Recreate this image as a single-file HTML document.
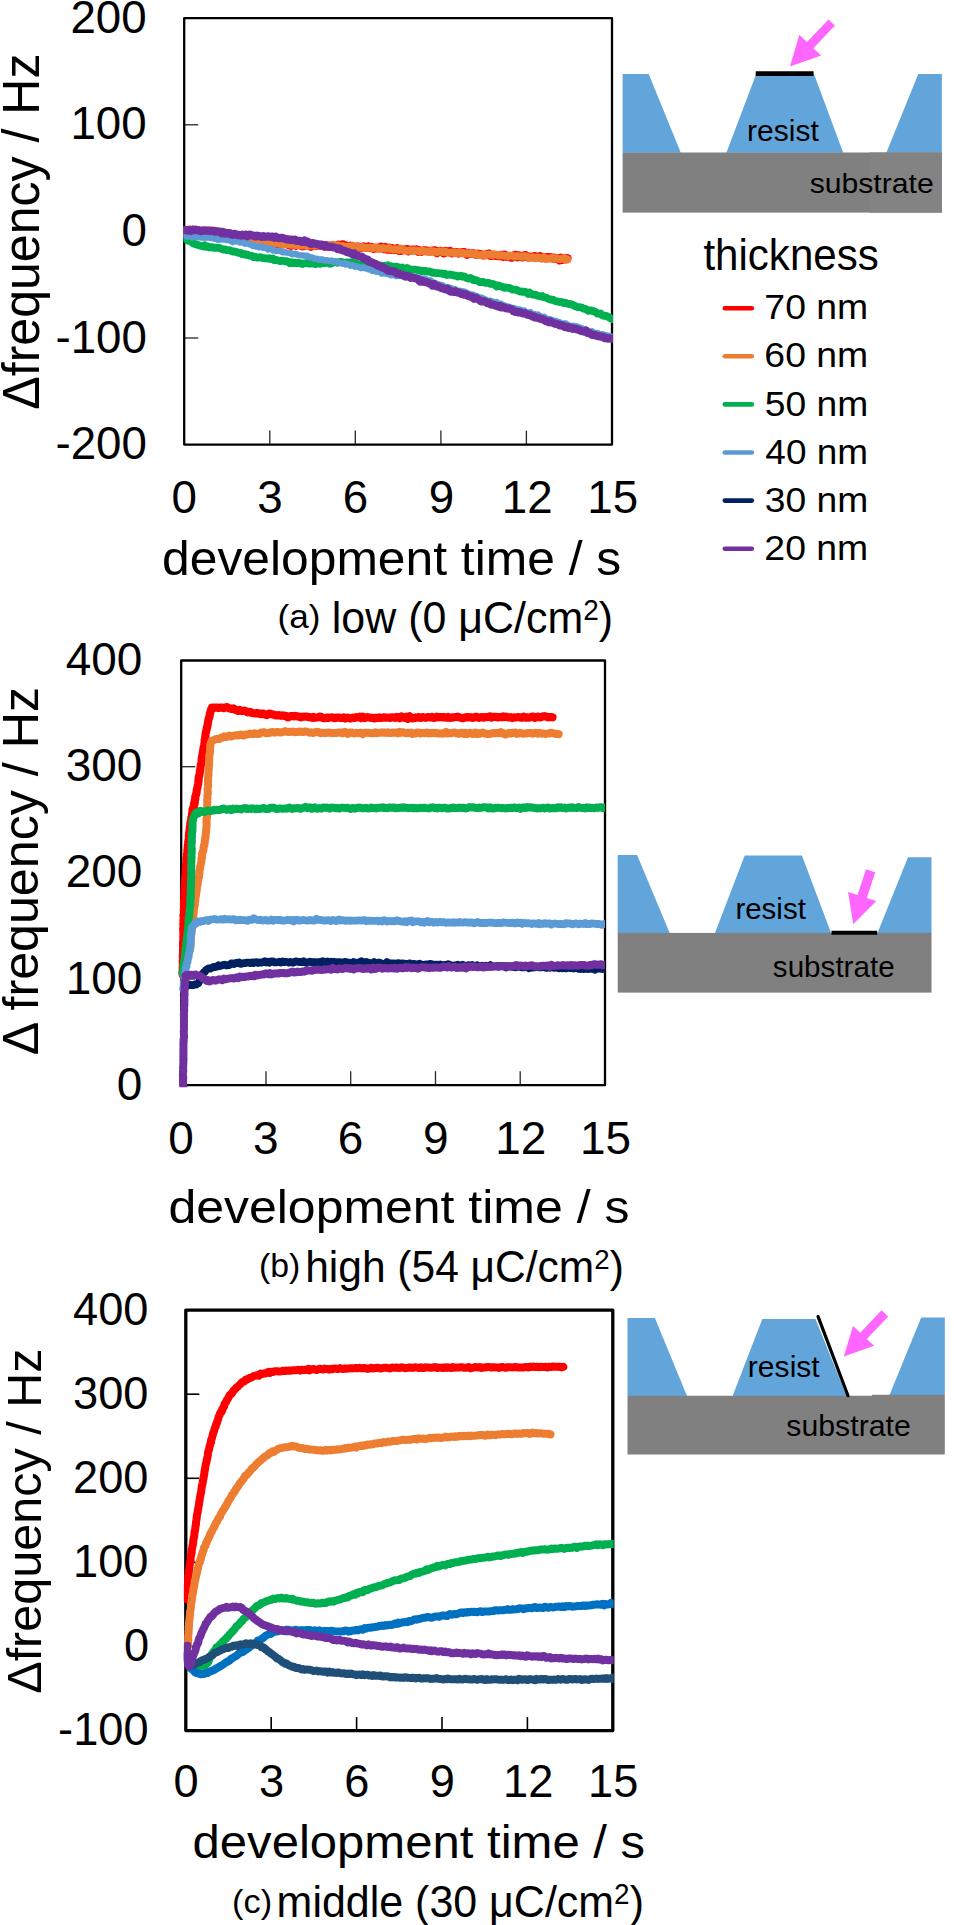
<!DOCTYPE html>
<html lang="en"><head><meta charset="utf-8"><title>QCM development curves</title>
<style>
html,body{margin:0;padding:0;background:#fff}
svg{display:block}
text{font-family:"Liberation Sans",sans-serif;white-space:pre}
</style></head><body>
<svg width="954" height="1925" viewBox="0 0 954 1925">
<rect width="954" height="1925" fill="#fff"/>
<g id="plot-a">
<clipPath id="ca"><rect x="183.2" y="18.2" width="429.8" height="426.40000000000003"/></clipPath>
<line x1="269.8" y1="444.6" x2="269.8" y2="430.6" stroke="#262626" stroke-width="1.3"/>
<line x1="355.3" y1="444.6" x2="355.3" y2="430.6" stroke="#262626" stroke-width="1.3"/>
<line x1="440.9" y1="444.6" x2="440.9" y2="430.6" stroke="#262626" stroke-width="1.3"/>
<line x1="526.4" y1="444.6" x2="526.4" y2="430.6" stroke="#262626" stroke-width="1.3"/>
<line x1="184.2" y1="124.8" x2="198.2" y2="124.8" stroke="#262626" stroke-width="1.3"/>
<line x1="184.2" y1="231.4" x2="198.2" y2="231.4" stroke="#262626" stroke-width="1.3"/>
<line x1="184.2" y1="338" x2="198.2" y2="338" stroke="#262626" stroke-width="1.3"/>
<rect x="184.2" y="18.2" width="427.8" height="426.4" fill="none" stroke="#000" stroke-width="2.3" stroke-linejoin="round"/>
<g clip-path="url(#ca)">
<polyline points="184.5,230.5 186.4,230.7 187.8,230.3 189.5,229.9 191,230.3 192.9,230 194.3,230.8 195.4,231.9 197.4,230.6 198.7,230.6 200,231.6 202.2,231.6 204.2,231.5 205.5,230.9 206.9,231.7 208.5,232.4 210.5,231 211.9,231.9 213.5,231 215,231.7 216.6,231.6 218.4,233.1 219.9,232.7 221.4,234.2 222.7,234.5 224.6,234.6 225.9,233.3 227.9,235.2 228.9,236 230.7,236.5 232.3,235.7 233.6,236.9 235.8,236.9 237.3,237.4 238.5,239.2 240.3,238.2 241.8,239.2 242.6,240.3 244.8,239.7 246.3,240.4 247.9,240.9 249.3,241.1 251,240.3 252.6,241.5 254.5,242.6 255.9,240.6 257.5,242.6 259.4,242.2 260.6,241.7 262.2,243.8 263.5,243 265.9,241.7 267.3,242.7 268.9,243.2 270.5,242.8 272,243.6 273.6,243.2 275.1,243.9 276.7,244.6 278.4,243.2 280.3,244 281.7,243.6 283.1,244.2 284.6,243.4 286.2,244 288.3,244.4 289.7,245.3 291.2,245.6 292.7,243.9 294.1,244.4 296,245.5 297.8,243.6 299.1,244.8 300.8,245.1 302.4,246.2 304,245.8 305.3,245.1 307.2,245.1 308.7,245.2 310.7,246.6 311.9,245.1 313.8,245.3 315.6,245.8 316.8,245.5 318.4,245.4 320.2,244.8 321.7,245.6 323.1,245.3 325,246.6 327,246.2 328.1,245.7 329.7,246.3 331.1,245.6 333.1,246.7 334.3,245.9 336,246.4 338.1,245 339.2,246.3 341.3,244.8 343,244.6 344.3,246 346,245.6 347.9,246.5 349,248.1 350.5,245.9 352,246.1 353.9,246.8 355.8,247.1 357.3,246.7 358.5,246.8 360.1,247.6 361.8,247.5 363.6,246.5 365.1,247.3 366.8,247.5 368.4,246.7 369.9,247.8 371.5,247.1 373.2,248.6 374.7,248.1 376.5,248.2 378.4,247.8 379.7,248.2 381.2,246.9 382.4,247.7 384.5,249 385.6,247.2 387.3,249.5 389.4,247.7 391,249.7 392.4,248.6 393.6,249.9 395.5,249.5 397.1,248.4 399,250.6 401,250.8 402.1,249.8 403.5,249.7 405,249.9 406.9,249.4 408.4,251 409.8,249.8 411.7,250.3 413,249.8 415.2,250 416.7,249.6 418.4,251.6 419.6,250.6 421.4,251.6 422.9,250.9 424.5,250.5 426.1,250.8 427.5,250.8 429,251.3 431.1,251.1 432.5,251.2 434.2,250.5 436,251 437,252.9 438.8,251.3 440.6,251.1 442.3,252.2 443.7,253.1 445.7,251.1 447.1,252.1 448.4,251.9 450,251.1 452,253.1 453.6,252.6 454.6,252.8 457,252.3 458.4,253.3 460.2,252.6 461.4,253 463,252.4 464.4,252.4 466.9,254.4 467.9,253.2 469.9,253.8 471,253.7 472.8,253.5 474,253.5 475.9,254.5 477.8,253.9 478.9,254.1 481,254.3 482.4,255.3 483.7,255 485.5,254.9 487.1,254.3 488.8,253.7 490.3,255.6 491.8,255.7 493.5,254.9 495,255.5 496.5,255.8 498.4,255.9 500.2,256.1 501.3,255.1 503.3,256.7 504.7,254.7 506.2,256.4 508.3,256.2 509.6,256.6 511.6,257.4 512.7,257.2 514.6,255.3 516.1,255 517.5,256.9 519.4,255.7 520.9,256.5 522.7,257.2 524.1,255.4 525.5,255.2 527.3,257.1 529,257 530.8,256.9 532,257.2 533.8,256.6 535,256.2 537.1,257.3 538.4,256.8 539.8,256.4 541.8,258.1 543.7,257.7 544.7,258.2 546.4,257.2 548.1,257.6 549.6,257.4 551.5,257.6 552.9,258.5 554.5,257.9 556.4,258.8 557.7,258.9 559.6,260.3 560.9,257.8 562.4,259.7 563.9,259 566.3,259.2 567.4,258.2" fill="none" stroke="#ff0000" stroke-width="8.6" stroke-linecap="round" stroke-linejoin="round"/>
<polyline points="184.5,230.6 186.2,230.5 187.5,230.6 189.6,230.6 191.1,231.5 192.8,230.2 194.6,230.1 195.9,230.4 197.3,230.4 199,231.4 200.6,231.6 202.3,230.9 203.9,230.8 205.3,231.4 207.2,232.4 208.5,230.6 210.3,232.3 211.9,231.7 213.4,232.9 215,232.2 216.5,232.8 218.1,232.6 219.5,233.2 221.3,234.6 223.2,234.7 224.7,234.6 226.2,234.8 227.7,234.7 229.1,235.8 230.9,236.4 232.3,236.8 233.9,237.2 235.4,237.1 237,238 238.5,238.4 240.1,239.4 241.5,240.1 243.2,239.6 245.1,239.8 246.3,240.4 247.9,240.5 249.6,240.7 251.2,241.2 252.5,241 254.2,241.9 256,241.7 257.5,242 259.1,242 260.9,241.9 262.2,241.9 263.9,242.3 265.4,242.3 267.3,242.8 268.5,242.8 270.2,242.3 271.9,243.1 273.6,242.6 275.2,243.1 276.9,243.4 278.1,242.7 280,243.9 281.5,244 283.1,244.1 284.8,244.1 286.2,244.2 287.7,244.1 289.5,244.5 291,244.5 292.7,244.9 294.4,244.4 296,245.1 297.8,245.2 299.2,245.1 300.6,245 302.3,245.5 303.9,244.5 305.5,245.5 307.3,245.5 308.8,245.5 310.2,245.6 312.2,245.2 313.7,245.4 315.3,245.8 316.9,245.7 318.6,245.7 320.1,244.9 321.9,245.9 323.4,246.2 325,246.2 326.6,245.8 328,245.1 329.7,246.2 331.3,245.8 333,244.7 334.4,246.1 336.4,245.3 337.8,245.4 339.3,245.7 340.8,246.7 342.6,246 344.2,246.3 345.8,247.1 347.5,247.1 349,246.4 350.7,246.4 352.2,246 353.9,246.4 355.6,247 357.4,247 358.6,247 360.2,247.5 361.8,246.8 363.6,247.2 365,247.7 366.7,247.7 368.3,248 369.8,247.8 371.4,247.6 373.1,248 374.5,247.5 376.2,247.4 377.9,248.5 379.6,248.3 381.2,248.6 382.5,247.8 384.3,248.5 386.1,248.5 387.7,248.5 389.2,248 390.7,249 392.5,249.6 393.9,249.5 395.5,249.2 397.1,249.5 399,250 400.5,248.5 402.2,249.8 403.6,250.1 405.4,250.3 406.8,250.8 408.5,250.7 410.4,250.4 411.8,250.5 413.2,250.8 414.9,250.3 416.6,250.6 418.3,251.1 419.7,251.6 421.1,250.8 422.9,250.9 424.5,251.1 426.2,251.7 427.9,251.2 429.4,251.9 431.1,250.9 432.4,251.3 434.3,251.4 436.1,252 437.5,252.2 439,251.1 440.6,251.5 442.5,252.1 443.7,251.8 445.4,251.5 447.1,252.7 448.7,252.6 450.2,252.7 451.9,252.3 453.4,253.1 455.1,252.6 456.7,253.3 458.1,252.5 459.9,252.6 461.6,253.2 463,252.9 464.7,253.6 466.4,253.5 467.8,253.1 469.5,253.7 471,253.6 472.9,254.2 474.6,253.6 476.2,253.8 477.5,254.7 479.3,255.2 480.8,255.2 482.4,254.4 484.2,254.6 485.4,255.3 487.3,254.6 488.8,254.3 490.6,254.9 492,255.2 493.5,254.7 495.3,254.4 496.9,254.6 498.4,255.6 500.1,255.1 501.6,255.4 503,255.7 505,255.9 506.6,255.6 508.1,256.1 509.7,255.5 511.4,255.8 512.8,255.6 514.4,256.7 516.1,256.2 517.9,256 519.1,256.3 521.1,256.4 522.4,256.9 524,256 525.9,256.3 527.3,256.7 528.8,258.1 530.5,257.5 532.3,257.1 533.9,257.5 535.3,258.2 537,257.3 538.7,257.3 540.1,258.1 541.9,257.9 543.4,258.1 544.9,257.7 546.6,258.9 548.2,258.9 549.8,258.4 551.4,258.6 553,257.5 554.8,258.8 556.3,258.5 558,258.9 559.6,259.1 561.2,258.7 563,258.2 564.2,259.3 566,258.9 567.5,259.2" fill="none" stroke="#ed7d31" stroke-width="7.8" stroke-linecap="round" stroke-linejoin="round"/>
<polyline points="187.1,240 188.5,240.8 189.9,240 191.2,241.3 192.3,242.9 194,243.6 195.5,244.3 196.8,244.5 198.5,245.2 199.8,245.7 201.3,245.7 203.2,246.5 204.6,245.3 206.1,246.9 207.8,246.4 209.4,247.5 210.9,247.2 212.2,247.2 214,247.9 215.7,247.6 217.2,247.8 219,247.7 220.7,248.6 222.1,249.1 223.6,249.6 225.6,249.4 226.8,250.2 228.3,250.1 230.1,250.4 231.7,251.1 233.1,251.7 234.8,251.5 236.2,252 237.7,252.5 239.4,253 241,253 242.4,254.3 244.1,254 245.6,254.8 247.5,254.6 248.6,255.5 250.5,255.8 251.9,255.8 253.4,257.2 255.1,256.7 256.7,257.6 258.4,257.6 259.8,257.1 261.3,257.5 262.9,258.1 264.6,258.2 266.2,258.5 267.9,258.6 269.3,258.2 271,259.2 272.7,258.5 274.1,260 275.4,259.8 277,260.1 278.6,260.6 280.6,261.1 281.8,260.7 283.7,260.8 285.2,261.4 287,261.2 288.5,261.9 289.9,263.3 291.5,262.3 293.1,263.2 294.7,262.4 296.2,263.2 297.9,262.9 299.7,263.1 300.9,263.4 302.7,264 304.2,263.3 305.9,263.3 307.6,262.9 309.1,263.6 310.9,263.2 312.1,263.7 314.1,263.4 315.5,264.2 317.3,262.5 318.8,263.3 320,263.8 321.9,263.2 323.6,262.9 325.4,263 326.9,262.4 328.5,263 329.8,263.9 331.8,263.2 333.5,262.1 334.9,262.1 336.4,262.2 337.8,262.8 339.8,261.9 341.6,262 343,262.7 344.6,262.8 346.1,262.4 347.5,262.3 349.4,262.3 350.7,262.9 352.4,262.3 354.1,263.8 355.8,263.3 357.3,264 358.9,264.7 360.4,264.5 361.9,263.6 363.7,264.6 365.2,264.8 366.7,264.1 368.3,264.1 370,264.6 371.4,264 373.1,265.5 374.7,263.9 376.5,264.6 378.2,265.1 380,265.3 381.1,265.6 382.8,265.8 384.6,265.7 386.1,266.5 387.7,265.2 389.5,266.3 390.9,266.1 392.4,266.7 393.9,266.9 395.7,266.6 397.3,266.9 398.7,267.7 400.3,267.8 402.1,267.5 403.7,269 405.2,269.3 406.9,267.9 408.5,268.9 409.8,270.2 411.6,269.7 413.2,269.7 414.7,269.7 416.1,269.8 417.9,270.2 419.6,270.3 421.3,271.1 422.4,270.8 424.7,271 425.8,270.9 427.6,271.6 429.3,271.5 430.8,272 432.3,272.8 433.7,272.7 435.6,273 437,273.1 438.3,273.2 440.6,273.4 441.9,273.5 443.7,274.2 444.9,273.6 446.8,275 448.4,274.6 450,274.5 451.4,274.9 452.8,275 454.5,275.7 455.8,275.5 457.5,276.6 459.3,276 460.8,275.7 462.4,276.6 464,276.4 465.9,277.6 467.3,278.4 468.7,278.6 470.5,278 471.8,278.7 473.4,280.2 475.1,279.9 476.4,280.2 478.1,281.1 479.5,282.1 481.2,282 483,281.9 484.2,282.4 485.9,282.9 487.3,282.8 488.8,282.9 490.4,283.8 492.3,283.8 494,284.6 495.3,285 496.7,286.4 498.4,285.4 499.9,286.1 501.6,286.5 503.1,287.2 504.6,287.8 506.2,287.5 507.6,287.8 509.2,287.8 510.6,288.5 512.3,289.6 513.7,289.7 515.5,289.6 516.9,290.3 518.6,290.9 520.2,291.5 521.5,291.4 523.2,291.9 524.7,291.6 526.5,292.3 528.2,293.9 529.6,292.6 531,293.8 532.8,294.5 534,294.6 536,294.9 537.2,295.6 538.5,296 540.8,296.4 542.2,296 543.4,297.2 545.1,297.3 546.6,297.9 548.2,298.7 549.5,299.3 551.2,299.8 552.9,299.6 554.4,300.7 556.1,301.2 557.5,301.6 559.3,302.1 560.5,301.9 562.2,302.3 563.4,303.1 565.1,302.6 567,303.7 568.2,303.8 570,304.3 571.4,304.1 572.8,304.9 574.5,305.7 576,306.6 577.5,307.1 579.3,307.1 580.8,307.5 582.1,307.7 583.6,308.7 585.3,308.9 586.8,309.8 588.5,310.8 590.2,310.5 591.5,310.3 592.9,311.1 594.4,311.4 595.9,312 597.4,313.7 598.9,313.7 600.5,313.5 602,315 603.6,315.8 605,315.7 606.5,316.1 607.9,316.8 609.7,317.7 611.1,318.5 612.7,319.3" fill="none" stroke="#00b050" stroke-width="7.8" stroke-linecap="round" stroke-linejoin="round"/>
<polyline points="185.6,236.1 187.5,236.5 189.1,235.9 190.7,236.4 192.4,237.5 193.7,235.8 195.3,237.1 197.2,237.4 198.5,237 199.9,237.3 202,237.7 203.3,237 205,237.7 206.5,237.2 208.1,237.5 209.7,237.7 211.4,238.1 213.1,238.4 214.3,238.7 216.4,238 217.7,239.8 219.3,239.6 221.2,239.5 222.7,239.2 224.1,239.5 226.1,240 227.4,240.2 229.1,239.4 230.7,240.8 232.4,242 233.8,240 235.6,241.6 236.9,241.6 238.7,241.6 240.1,242.6 241.7,241.8 243.6,242.8 244.9,243.7 246.4,243.4 248.3,243.7 249.6,244.4 251,244.6 252.7,245.9 254,245.2 255.9,246.5 257.5,245.9 258.8,247.2 260.4,247.2 262,246.4 263.6,247.9 265,247.8 266.8,248.4 268,249.6 269.8,248.7 271.4,249 273,250.5 274.7,250.2 276.1,251.1 277.9,250.9 279.4,250.6 280.9,251.3 282.4,252.2 284,252.4 285.8,252.3 287.2,252.6 288.9,252.9 290.6,253 292.2,254.4 293.8,253.9 295.1,253.7 296.6,254.3 298.5,255.1 300,255.4 301.7,255.4 303.1,255.4 304.8,256.1 306.4,255.6 307.9,256.1 309.5,257.4 311,257.1 312.6,257.8 314.2,258.5 315.8,258.6 317.2,258.6 319.1,259.9 320.4,259.5 322.2,259.4 323.6,260.2 325.2,260.4 327,260.1 328.3,260.8 329.8,261 331.4,260.5 333,261.6 335,261.9 336.3,262.1 338,261.9 339.3,262.8 341,263.2 342.7,263.6 344.4,263.3 345.6,264.5 347.4,263.9 348.9,264.7 350.3,265.8 352,265.2 353.6,265.6 354.9,266.7 356.8,266.4 358.4,266.8 359.8,267.5 361.2,268.3 363.2,267.2 364.6,268.2 366.2,268.5 367.8,268.9 369.1,269.4 370.9,269.8 372.3,270.8 373.9,270.6 375.5,271.4 377,271.9 378.8,271.8 380.2,272.5 381.7,273.6 383.3,273.4 384.9,273.3 386.3,273.9 388,273.9 389.6,274.7 391.1,275.3 392.8,274.8 394.3,275.3 396.2,276.1 397.7,275.6 399.2,276 400.8,275.6 402.7,275.8 404,276.1 405.6,277.4 407.3,276.4 408.9,276.4 410.7,276.5 412.1,276.9 414,277.4 415.1,277.3 416.9,278.4 418.3,277.8 420.2,278.6 421.5,278.4 423,279 424.7,278.5 426.3,279.6 427.5,280.2 429.1,280.7 430.5,280.4 432.2,282.4 433.7,282.5 435.1,283 436.6,283.7 438.2,284.3 439.6,285.1 441.4,284.9 443,285.5 444.1,286.5 445.9,287 447.4,287.2 449,287.6 450.4,287.9 452,288.7 453.5,289.7 455.3,289.2 456.7,290.8 458.2,290.9 459.8,290.8 461.3,291.9 462.7,291.3 464.5,291.7 466,292.4 467.4,293.3 469.1,293.8 470.7,294.3 471.9,295.1 473.4,294.6 475.3,296.3 476.8,296 478,296.8 479.5,297.5 481.1,297.7 482.6,298.1 484,298.8 485.8,299.7 487.1,300.5 488.7,300.9 490.5,300.7 491.8,301.3 493.4,301.7 495.1,302.7 496.6,302.1 498,304 499.6,303.7 501.1,304 503,304.9 504.4,305.7 505.7,305.8 507.4,306.6 509,306.6 510.5,307.6 512.2,308.1 513.7,307.9 515,309.1 516.6,309 518,309.4 519.7,309.4 521.3,310.1 523.2,311.1 524.3,310.6 525.6,312 527.3,312.3 529,312.7 530.3,312.1 531.9,313.5 533.5,314.3 535.1,314.2 536.6,315.1 538,314.5 539.8,316.4 541.1,316.3 542.7,317.5 544.1,316.8 545.7,318.5 547.4,318.6 548.6,319.6 550.3,319.3 552,319.9 553.4,321.7 555,320.8 556.3,321.3 558.2,322 559.7,322.1 561.2,323.5 562.5,324.1 564.1,323.5 565.9,323.4 567.6,325.1 569,325.5 570.7,325.8 572,326.3 573.6,325.8 575.2,326.5 576.8,326.4 578.1,326.8 580,328.3 581.5,328 582.8,329.8 584.3,329.3 586,329.5 587.4,330.7 588.7,331.6 590.7,331.5 592.1,331.3 593.6,332.5 595.5,333.4 596.8,333 598.2,333.3 599.9,334.5 601.3,334.5 602.9,334.3 604.6,334.9 606.1,335.1 607.7,335.8 609.5,336 611,336.7 612.6,336.7" fill="none" stroke="#5b9bd5" stroke-width="6.4" stroke-linecap="round" stroke-linejoin="round"/>
<polyline points="184.7,230.2 186.3,230.2 187.9,230.7 189.3,230.1 190.9,230.9 192.9,229.7 194.2,230.1 195.8,229.7 197.7,230.2 199.2,230.7 200.8,231.2 202.3,230.3 204.2,230.7 205.6,230.7 207.2,230.6 208.7,230.5 210.1,231.1 211.7,230.5 213.6,231.4 215.2,231.6 216.7,231.5 218.2,231.5 219.7,231.6 221.5,233.3 222.9,232 224.8,233.6 226.4,233.4 228.3,233.2 229.6,233.1 231,234.3 232.6,234.8 233.8,233.8 235.8,234.3 237.4,235.1 239.2,234.9 240.8,235.7 242.4,234.7 243.9,235.3 245.6,234.6 247.3,236.2 248.6,235 250.3,234.5 251.7,235.5 253.7,235.6 255.3,236.6 256.8,235.7 258.2,235.9 260,236.3 261.5,236.8 263.2,236.2 264.8,236.8 266.5,236.6 267.9,236.4 269.7,236.7 271.2,236.8 272.8,236.5 274.4,237.7 275.9,236.7 277.7,238 279.1,238.2 280.8,237.9 282.3,237.9 283.7,238.4 285.7,239 287,239.4 288.8,239.4 290.4,240 291.7,239.6 293.3,240.2 295,239.7 296.5,241 298.1,240.9 299.9,240.9 301.4,241.9 303.1,241.9 304.5,240.6 306.2,242.2 307.7,241.7 309.4,243.1 311,244.1 312.5,243 314.1,243.5 315.6,243.7 317.3,244.2 318.9,244.7 320.4,245.3 321.9,244.6 323.7,246 325.5,245.2 326.7,246.1 328.4,246.9 330,247 331.2,246.6 333.1,247.1 334.5,247.6 336.4,248.2 337.7,249.1 339.2,248.4 340.8,249.6 342.4,250.2 343.8,250.6 345.4,251.1 346.7,252.1 348.4,252.2 350,252.9 351.7,253.4 353,254.5 354.5,253.5 356.1,255.6 357.5,255.5 359.1,256.2 360.5,256.5 361.8,256.8 363.3,258.1 364.8,258.6 366.3,259.8 367.7,259.6 369,261.7 370.2,261.9 371.9,262.4 373.1,263 374.8,263.7 376.2,264.3 377.4,265.3 379.2,266.2 380.7,266.8 382.1,266.9 383.7,268 385.3,268.4 386.3,269.5 388.1,270.8 389.6,270.9 391.1,271 392.6,271 393.9,271.6 395.5,272 397,273.6 398.5,273.5 400.1,274.3 401.5,274.5 403.1,275.2 404.8,276.3 406.3,275.8 407.9,276.4 409.1,276.6 410.8,277.8 412.4,277.4 414,277.9 415.5,278.2 417.2,278.7 418.6,280 420.2,281.5 421.7,280.4 423.3,281.8 424.7,282 426.4,281.9 427.8,282.8 429.3,283.4 430.8,283.7 432.4,285.5 434,284.3 435.5,285.8 436.9,286.3 438.5,286.4 439.9,287.3 441.6,288.1 443,288.3 444.2,288.9 446.2,289.5 447.6,288.7 449,290.7 450.7,291.6 452.1,291.4 454.1,291.9 455.4,291.3 456.7,292.3 458.5,292.4 459.9,293 461.7,294.2 462.9,293.9 464.3,294.7 466.1,294.4 467.6,295.7 469.1,296.3 470.4,296.5 472.2,297 473.9,298.7 474.9,297.9 476.9,298.5 478.2,299.1 480.1,300.6 481.3,301.5 482.8,301.2 484.5,301.3 485.9,301.9 487.3,303.1 489,302.7 490.4,304.2 491.7,304.7 493.8,304.6 495,305.3 496.5,305.8 498.2,306.6 499.5,305.9 501,307.4 502.7,307.1 504.2,307.4 505.9,308.2 507.6,308.5 508.9,308.6 510.6,308.8 512.1,309.6 513.4,311.1 515.1,311.8 516.5,311.7 518.3,312.4 519.8,312.1 521.3,312.8 522.6,313.4 524.4,313.2 525.8,313.7 527.5,314.7 529,315 530.4,315.1 532.2,316.3 533.7,316.4 535,317.5 536.8,317.6 538.1,317.9 539.7,318.6 541.2,319 542.7,319.3 544.2,320 545.8,321 547.5,321.5 549.1,322.3 550.3,321.4 552.1,322.5 553.4,323 555,323.7 556.6,323.9 558.1,324.4 559.9,325.4 561.2,325.5 562.5,325.3 564.4,326.9 565.8,327.1 567.3,326.8 568.5,327.9 570.6,327.6 572.2,328.8 573.7,328.6 575.3,328.8 577,329.4 578.3,329.6 580,330.5 581.3,330.9 582.9,331.3 584.6,331.6 586,330.7 587.3,332.9 589.1,332.5 590.6,333.9 592,334.8 593.7,334.9 595.1,335.1 596.5,335.7 598.1,336.1 600.1,336.3 601.2,336.7 603,336.9 604.6,338.1 606.2,337.9 607.5,338.6 609.3,338.3 610.9,338.6 612.6,338.7" fill="none" stroke="#7030a0" stroke-width="8.2" stroke-linecap="round" stroke-linejoin="round"/>
</g>
<text transform="translate(70.40,32.70) scale(1.0009,1)" font-size="45.69" fill="#000">200</text>
<text transform="translate(70.40,139.30) scale(1.0009,1)" font-size="45.69" fill="#000">100</text>
<text transform="translate(121.40,245.90) scale(1.0009,1)" font-size="45.69" fill="#000">0</text>
<text transform="translate(55.40,352.50) scale(1.0009,1)" font-size="45.69" fill="#000">-100</text>
<text transform="translate(55.40,459.10) scale(1.0009,1)" font-size="45.69" fill="#000">-200</text>
<text transform="translate(171.60,513.40) scale(1.0009,1)" font-size="45.69" fill="#000">0</text>
<text transform="translate(257.16,513.40) scale(1.0009,1)" font-size="45.69" fill="#000">3</text>
<text transform="translate(342.72,513.40) scale(1.0009,1)" font-size="45.69" fill="#000">6</text>
<text transform="translate(428.78,513.40) scale(1.0009,1)" font-size="45.69" fill="#000">9</text>
<text transform="translate(501.74,513.40) scale(1.0009,1)" font-size="45.69" fill="#000">12</text>
<text transform="translate(587.30,513.40) scale(1.0009,1)" font-size="45.69" fill="#000">15</text>
<text transform="translate(38.50,408.70) rotate(-90) translate(-0.95,0) scale(0.9707,1)" font-size="51.57" fill="#000">Δfrequency / Hz</text>
<text transform="translate(162.10,574.50) scale(1.0319,1)" font-size="48.23" fill="#000">development time / s</text>
<text transform="translate(277.55,627.90) scale(1.0779,1)" font-size="32.56" fill="#000">(a)</text>
<text transform="translate(331.80,632.90) scale(0.9701,1)" font-size="44.28" fill="#000">low (0 μC/cm<tspan dy="-0.451em" font-size="65%">2</tspan><tspan dy="0.293em">)</tspan></text>
</g>
<g id="plot-b">
<clipPath id="cb"><rect x="178.2" y="660.5" width="426.8" height="426.70000000000005"/></clipPath>
<line x1="266" y1="1085.2" x2="266" y2="1071.2" stroke="#262626" stroke-width="1.3"/>
<line x1="350.7" y1="1085.2" x2="350.7" y2="1071.2" stroke="#262626" stroke-width="1.3"/>
<line x1="435.5" y1="1085.2" x2="435.5" y2="1071.2" stroke="#262626" stroke-width="1.3"/>
<line x1="520.2" y1="1085.2" x2="520.2" y2="1071.2" stroke="#262626" stroke-width="1.3"/>
<line x1="181.2" y1="766.7" x2="195.2" y2="766.7" stroke="#262626" stroke-width="1.3"/>
<line x1="181.2" y1="872.9" x2="195.2" y2="872.9" stroke="#262626" stroke-width="1.3"/>
<line x1="181.2" y1="979" x2="195.2" y2="979" stroke="#262626" stroke-width="1.3"/>
<rect x="181.2" y="660.5" width="423.8" height="424.7" fill="none" stroke="#000" stroke-width="2.3" stroke-linejoin="round"/>
<g clip-path="url(#cb)">
<polyline points="182.7,974.7 182.4,972.9 182.6,972.2 182.6,970.7 182.6,968.7 182.7,966.7 182.8,965.5 182.8,963.8 182.7,962.5 182.8,960 183.2,959 182.8,957.3 182.8,955.2 183.1,954.2 183.1,952.5 183.1,950.7 183,949.5 183.3,947.1 183.1,946.1 183,944.7 183.1,943 183.2,941.8 183.4,939.1 183.4,937.4 183.3,936.6 183.5,935 183.4,934.2 183.5,931.9 183.2,929.6 183.2,928.8 183.6,926.4 183.3,924.5 183.5,924.8 183.5,922.1 183.5,920.7 183.6,919 183.9,918 183.4,915.7 183.9,914.5 184.1,911.9 183.8,910.1 183.9,909.8 184,908.2 184.2,906.2 183.9,904.4 184.1,902.8 184.1,900.8 184.3,900.2 184.3,898.2 184.4,896.5 184.3,894.9 184.5,893.6 184.4,891.7 184.5,890.2 184.6,887.7 184.7,886.9 184.7,886 185.1,883.2 185,881.8 184.9,880.7 185.3,879.1 185.2,877.3 185.5,874.7 185.5,874.1 185.6,871.7 185.7,870.3 185.8,869.3 186,867.3 186.4,866.2 185.9,865.6 186.4,862.9 186.5,861.3 186.5,859 186.6,857.5 187.2,855.7 187,854.3 187.5,852.5 187.4,851.1 187.5,849.7 187.7,847.7 187.9,845.9 188.2,844.4 188.2,843.6 188.4,841.8 188.5,840.6 188.9,839.1 189,836.8 188.9,835.7 189.1,833.2 189.5,833.2 189.5,831.2 189.8,828.9 189.9,826.9 190.2,826 190.4,823.4 190.7,822.3 190.8,821.4 191.4,819.5 191.3,817.7 192.1,816.8 192,814.3 192.3,813.3 192.5,811.4 192.5,809.7 193.2,808.7 193.5,806.4 194.1,806.2 194,803.5 194.8,803.1 194.8,800.1 195.3,799.3 195.2,796.9 195.8,795.3 196.1,794.3 196.5,793 196.7,790.5 196.8,790.1 197.4,787.6 197.6,786.4 197.9,785 198.2,783.5 198.5,780.8 198.6,780.8 198.6,778.7 198.9,776.7 199.5,774.8 199.7,772.9 199.8,771.5 200,770.7 200.3,768.8 200.5,766.8 200.7,765.5 200.9,764.9 201.6,762.4 201.6,760.7 201.7,760 201.8,758 202.2,756.2 202.6,754.4 202.9,752.3 203,750.9 203.3,749.7 203.5,748.2 203.7,746.9 204.3,745.4 204.4,743.6 204.9,742 204.7,739.9 205.1,737.8 205.4,736.9 205.5,735.1 205.6,733.7 206,732.2 206.4,730.2 206.7,728.7 206.9,727.6 207.4,726.1 207.7,724.2 207.9,723.1 208.2,721.3 208.6,719.3 209,718 209.5,716.9 209.8,713.7 210.3,712.6 210.7,710.9 211.1,709.6 211.8,707.6 212.8,708.5 213.7,707.7 215.2,707.5 216.6,707.5 218.4,707.9 220.4,707.6 222.2,707.5 223.8,708.2 225.5,707.3 227.1,707.2 228.6,708.2 230.3,708.5 232,709 233.3,708.4 235.2,709.8 236.5,709.9 238.1,710.9 239.7,709.9 241.2,710.9 242.9,711 244.4,710.7 246.2,711.3 247.7,712.4 249.3,711.9 250.8,712.1 252.2,713 254,713.3 255.4,713.5 257.3,712.9 258.7,713.5 260.6,714.1 262,713.6 263.6,713.7 265.2,714.6 266.8,715.1 268.4,714 270.1,713.5 271.4,714.2 273.2,714.5 275.1,715.1 276.3,715.5 277.9,715.3 279.4,715.2 280.9,715.8 282.9,715.4 284.3,715.9 286,715.8 287.8,717.4 289.5,716.7 290.6,716 292.5,716 294,716.4 295.6,715.9 297.2,716.4 298.8,716.5 300.6,717.3 302.1,716.8 303.6,716.7 305.4,716.5 306.9,716.6 308.5,717.1 310,717.1 311.8,717.8 313.3,717 314.8,717.8 316.3,717.5 318,717.4 319.5,716.6 321.3,716.9 322.9,717.9 324.2,718.2 326.1,717.7 327.8,718 329.3,717.5 330.8,717.5 332.7,717.4 334,718.1 335.5,717.9 337.2,717.6 338.9,717.6 340.7,717.9 342.3,717.8 343.8,717.3 345.2,718.5 346.9,717.8 348.4,717.7 350.1,718.4 351.5,718.2 353.4,717.6 355.1,717.9 356.6,717.2 358.3,717.4 359.7,716.7 361.2,718.2 362.9,716.8 364.8,718 366.4,717.3 367.8,717.2 369.6,717.6 371,717.8 372.9,717.9 374.3,718.5 375.8,717.8 377.6,718 379,717.4 380.6,718 382.1,717.7 383.9,717.4 385.5,717.6 387.1,717.6 388.7,717.7 390.5,717.8 391.9,717.4 393.4,717.3 395.3,717.9 397,716.8 398.4,717.3 399.7,718.3 401.5,716.4 403.3,717.3 404.8,717.9 406.6,716.8 407.8,718.7 409.7,716.4 411.1,718.2 413,718.3 414.4,718 416.2,717.4 417.6,717.7 419.1,717.1 420.7,717.9 422.4,717 423.9,717.4 425.8,717.9 427.5,717 428.9,717.3 430.4,717.5 432.1,716.8 433.6,717.9 435.5,717.6 437,716.7 438.6,717.4 440.1,717 441.5,717.1 443.2,717.4 444.8,717 446.6,717.8 448.2,717 449.7,717.8 451.3,717.3 453.2,717.7 454.5,717 456.1,717 457.8,716.7 459.3,717.5 461,717.7 462.7,718.2 464.5,717.8 465.6,717.3 467.4,717.1 469.1,717.4 470.7,717.2 472.2,717.9 473.8,717.6 475.6,716.8 477,716.9 478.7,717.8 480.3,717.3 481.9,717.1 483.5,717.7 485.3,717 486.7,717.1 488.4,717 489.9,716.3 491.4,717.6 493,716.7 494.6,716.9 496.4,716.9 497.9,717.5 499.4,717.2 501.2,717.2 502.9,716.4 504.2,717.2 506.2,716.5 507.6,717.3 509.2,717.4 511,717.2 512.4,718.1 514,717.4 515.9,717.5 517.1,717.3 518.8,717.1 520.6,717.6 521.9,717.7 523.7,716.6 525.3,717.7 527.2,717.4 528.4,717.6 530.1,717.4 531.8,716.6 533.3,716.7 534.8,718 536.6,717.3 538.2,716.6 539.8,717.4 541.5,717 543.1,716.4 544.6,716.2 546.2,716.5 547.6,717.3 549.4,717.2 551,717.1 552.5,717.3" fill="none" stroke="#ff0000" stroke-width="8.2" stroke-linecap="round" stroke-linejoin="round"/>
<polyline points="190,950 190.1,948 190.4,947.5 190.4,946.2 190.5,943.4 190.5,942.2 190.9,940.3 190.8,939.3 191.1,937.4 191,935.6 191.5,933.9 191.4,932.4 191.8,930.3 191.6,929.5 191.9,927.3 192.3,926.2 192.2,924.4 192.5,923.3 192.6,921.2 192.5,920 193.1,917.6 193.3,916.7 193.3,914.7 193.7,913.3 193.7,911.6 193.9,910.4 194.2,907.5 194.3,907 194.9,904.6 194.6,904.2 195.2,901.1 195.4,900 195.2,898.1 195.5,898 196,895.1 196.1,894.1 196.4,892.2 196.8,890.1 196.8,889.1 196.9,888 196.9,886 197.6,884.9 197.7,882.8 198.1,881.3 198.3,879.6 198.3,878.3 199,877.4 199.2,875.2 199.4,873.5 199.4,871.5 199.7,869.9 200,869.3 200.2,866.5 200.4,865.1 200.9,863.8 201.1,862.1 201.4,861.6 201.5,858 202,857.7 202.1,856.3 202,853.8 202.6,852.5 203,851.4 203.4,850.3 203.6,847.6 203.9,845.7 204.2,845.3 204.6,844 204.8,841.5 205,839.1 205.2,839.2 205.6,836.8 205.7,835.8 205.7,833.7 206.1,832 206,830.3 206.3,829.6 206.4,828 206.6,824.8 206.6,823.7 206.5,823.3 206.6,820.8 206.5,818.7 207,817.7 206.9,816.1 207.1,814.5 206.9,812.7 206.7,811.2 207.2,809.5 207.1,808.2 207.2,806.1 207.2,804.7 207.3,803.2 207.4,802.2 207.1,800.2 207.5,798.4 207.4,797 207.4,795.4 207.8,794.1 207.8,792.2 207.7,791.2 207.5,789.4 207.9,787.1 208,785.4 208,784.3 207.9,782.6 208,780.7 208,778.5 208.3,776.7 208.4,776.1 208.5,774.7 208.4,773.1 208.6,770.5 208.7,770 208.7,767.6 208.8,766.4 209.2,764.9 209,762.7 209.2,761.2 209.1,758.9 209.3,757.8 209.2,755.8 209.5,755.1 209.8,753.2 210.1,751.8 210.1,749.7 210.2,747.5 210.3,746.2 210.4,744.4 210.7,743.5 211.1,742.3 211.6,740.8 213,740.5 214.4,739.8 216.2,739.1 218,739.1 219.5,739.1 221,737.8 222.9,737.5 224.3,736.3 225.9,737 227.7,736.6 229.3,735.5 230.6,736.4 232.5,736.3 234,735.5 235.5,735.5 237.2,735 238.6,735.6 240.3,734.4 241.9,734.8 243.6,735.6 245.1,734.6 246.7,734.6 248.5,734.2 250.1,733.6 251.7,733.9 253.3,734 254.7,733.2 256.3,733.7 258,734 259.5,733.8 261.1,732.4 263,732.6 264.4,732.2 265.9,733.3 267.7,733.1 269.4,733 270.8,732.2 272.6,732 274,732.5 275.6,732.4 277.1,731.9 278.8,732.3 280.7,732.5 281.9,732.2 283.9,731.6 285.1,731.1 286.8,731.8 288.6,732 290.2,731.8 291.7,731.7 293.1,731.6 295,732.2 296.4,731.9 298.5,732 299.7,731.5 301.4,731.7 302.8,732.1 304.5,731.6 306,731.5 307.9,732 309.3,732.7 311.1,732.3 312.5,733 314.1,732.3 316,732.3 317.3,731.8 318.8,732.2 320.7,733.2 322.1,732.7 323.8,733 325.6,733 327,732.7 328.8,732.6 330.2,732.8 332.1,733.1 333.7,733 335,733 336.7,732.9 338.2,732.5 340,732.7 341.7,732.4 342.9,733.3 344.9,731.9 346.2,732.7 347.8,733.9 349.3,732.7 351.5,732.4 352.8,732.9 354.4,733.5 355.9,732.8 357.8,733.2 358.9,732.9 360.8,732.7 362.7,734.3 364,732.9 365.7,732.7 367.3,732.7 368.8,733.1 370.5,733.1 372.2,733.3 373.7,733 375.3,732.3 376.9,733.2 378.6,732.8 380.1,732.8 381.9,732.3 383.4,732.7 384.9,732.6 386.2,732.9 388.3,732.3 389.9,733 391.3,733 392.7,732.4 394.4,732.7 396.3,732.6 397.7,733.4 399.4,731.8 401.1,732.8 402.8,732.2 404.2,732.8 405.8,733.3 407.4,732.7 409.3,733 410.8,732.6 412.3,733.9 413.7,733.4 415.4,733.5 417.2,732.4 418.6,732.5 420.4,733.5 422,732.9 423.6,732.9 425.2,733.2 426.8,732.5 428.2,733.4 429.9,733 431.9,733.3 433,732.7 434.7,733.3 436.5,732.7 438,733.5 439.5,733.6 441,733.5 442.9,733.3 444.6,733.4 446.2,731.9 447.7,733.5 449.4,733 450.7,733.2 452.5,733 454,732.5 455.7,732.9 457.4,733.5 459.1,733.8 460.4,732.9 462.3,732.8 463.7,733.9 465.2,732.8 466.9,734.1 468.4,733.2 470.2,732.8 471.8,733.7 473.4,734 475.1,732.6 476.6,734 478.2,733.1 479.6,733.9 481.4,733.1 482.9,732.6 484.6,733.5 486.2,733.7 487.9,734.2 489.2,734.1 490.9,733.6 492.6,733.2 494.3,733.1 495.9,733.2 497.6,732.9 499.3,733.2 500.8,732.2 502.3,733.4 503.8,733.3 505.4,734.5 507.1,733.6 508.8,733.1 510.4,733.6 512,732.7 513.6,733 515.3,732.5 516.8,733.9 518.4,733.6 520.1,732.8 521.5,733.3 523.1,733.7 524.9,733.5 526.5,733.5 528,732.9 529.6,733 531.6,733.3 532.8,733.7 534.5,732.9 536.1,732.8 537.5,733.8 539.3,732.8 541.2,733.7 542.6,733.4 544.2,733.6 545.8,734 547.4,733.5 549.1,733.6 550.5,732.8 552.1,732.9 553.8,733.5 555.5,733.9 557,733.8 558.7,734.2" fill="none" stroke="#ed7d31" stroke-width="8.0" stroke-linecap="round" stroke-linejoin="round"/>
<polyline points="182.4,973.1 182.7,972.9 183.2,971.9 183.3,969.8 183.5,967.5 183.4,965.7 183.8,964.6 184.1,962.4 184.3,961.6 184.5,959.4 184.6,958.5 185.1,957.1 185.2,954 185.2,953.4 185.2,951.4 185.8,949.5 185.6,948.2 186.1,946.8 186.3,945.8 186.1,943 186.5,942.6 186.6,941.4 186.9,939.2 187,937.5 187.4,935.7 187.4,933.6 187.5,932.7 187.9,931.1 187.8,929.6 188,928.9 188.5,926.4 188.3,924.7 188.5,923.6 188.7,920.7 188.7,919.2 188.7,917.9 189.3,916.2 189.2,915.2 189.4,913.1 189.5,912.5 189.6,910.8 189.7,908.8 190,906.7 190.4,905.6 190.3,904 190.4,901.6 190.2,900.6 190.5,899.2 190.4,897.4 190.8,896.4 190.7,894.6 190.8,892.1 190.8,890.9 190.8,888.9 190.7,887.9 191.1,885.6 190.8,884.8 190.9,883 191.1,881.7 191,879.5 191.2,877.3 191.3,877.2 191.2,874.7 191.3,873.8 191.3,871.8 191.4,870.3 191,869.2 191.4,866.9 191.2,865.8 191.2,862.9 191.4,862.3 191.4,860.2 191.5,858.6 191.6,857.1 191.2,855.7 191.5,854.6 191.8,851.4 191.7,850.7 191.8,848.7 191.6,848 191.5,845.7 191.5,844.4 191.8,842.5 191.9,841.3 191.7,839.9 191.8,837.6 192,836.2 191.8,833.9 192,833 192.3,831.6 192.5,829.4 192.3,828.5 192.6,825.5 192.4,824 192.5,822.6 192.5,821.4 193.1,820.1 193.1,818.5 194,816.9 194.5,815.5 195.3,813.7 196,812.6 197.7,812.1 198.8,813.2 200.5,810.9 201.9,811.5 204.1,812 205.9,811.4 207.4,810.6 209.1,810.7 210.7,810.9 212.4,810.8 213.9,809.7 215.7,810.2 217,809.8 218.6,810 220.2,810 221.5,809.1 223.4,808.5 225.2,809.3 226.7,809.9 228.2,809.3 229.9,809.1 231.2,810.1 233.1,808.5 234.8,809.3 236.4,808.6 237.8,808.9 239.6,808.9 241.4,809.5 242.7,808.4 244.4,808.6 245.7,808.1 247.3,809 249.3,808.6 250.8,809 252.4,808.3 253.9,808.6 255.6,809.2 257.3,808.6 259.1,809 260.4,808.9 261.8,808.5 263.8,808 265.3,809.1 266.9,808.7 268.5,809.1 270.4,807.7 271.7,807.8 273.4,807.6 274.6,808.2 276.4,809 278,808.8 279.7,808.5 281.4,808.6 282.8,808.8 284.8,808.4 286,808.7 287.7,808.5 289.4,807.5 290.8,808.3 292.6,809 294.3,808.2 295.7,808.3 297.7,808.1 299,808.2 300.6,808.9 302.1,808.2 303.6,807.9 305.3,806.9 307,808.1 308.6,807.4 310.4,807.5 311.5,808.7 313.3,808.6 314.8,807.4 316.9,808.7 318.2,808.5 319.8,807.9 321.4,808.6 323.2,807.5 324.7,807.7 326.4,807.6 327.7,807.7 329.7,808.6 331.2,807.6 332.8,807.7 334.5,807.8 335.9,808.3 337.6,808 339.3,808.6 340.8,807.9 342.4,807.6 344,807.9 345.5,808.2 347.3,807.7 349,808.3 350.4,809 352.3,807.9 353.4,808.1 355.2,808.7 357.1,807.8 358.4,807.7 359.9,807.6 361.9,808.3 363.4,808.3 364.7,808 366.6,808.1 368,808.6 369.5,808.4 371.3,807.4 372.9,808 374.4,808.1 376.1,808.4 377.6,807.9 379.4,807.7 381,807.8 382.7,807.2 384.1,808 385.6,807.7 387.2,808.2 389,807.5 390.8,807.8 392.3,807.5 393.7,807.5 395.6,808.3 396.9,807.8 398.8,808.2 400.2,807.5 402,808 403.6,807.2 405,807.7 406.7,807.7 408.2,808.2 409.9,808 411.7,807.8 413.7,808.3 414.8,808 416.3,808.2 417.8,808.3 419.7,807.9 420.9,807.8 422.7,808.1 424.4,807.7 425.8,808.1 427.8,808.4 429.3,808.3 430.7,807.7 432.3,807.3 433.8,807.9 435.4,807.8 437.3,808.4 438.9,807.7 440.5,807.8 442.1,808.2 443.6,807.7 445.3,807.8 446.7,808.6 448.5,808.5 450.3,808.2 451.9,808 453.2,807.4 454.9,808.1 456.7,807.9 458.4,808 459.5,807.6 461.3,807.9 463,807.8 464.7,808 466,808.5 467.9,808 469.3,807.1 471.3,807.4 472.6,807.2 474.2,807.5 475.8,808.1 477.6,808.1 479.1,807.6 480.5,808 482.3,807.5 483.7,807.2 485.3,807.2 486.9,807.5 488.5,808.5 490.2,807.3 491.7,808.4 493.6,808.5 495.2,807.8 496.7,807.9 498.2,807.6 500,807.9 501.2,808.2 502.9,807.9 504.8,808.3 506.4,808.4 508.1,808 509.5,808 511,807.8 512.7,808 514.5,807.4 515.9,808.1 517.5,808 519,807.5 520.6,808.8 522.5,807.4 524.1,807.5 525.5,808 527.1,807 528.8,807.5 530.5,807.2 531.9,807.4 533.6,807.8 535,808 536.7,808.4 538.5,808.2 540.2,808.4 541.5,808.1 543.2,807.7 545,808.4 546.5,807.7 548.1,807.6 549.8,808.6 551.4,808.2 553.1,808 554.7,808.2 556.1,808.3 557.8,807.3 559.4,807.8 560.8,807.3 562.5,807.9 564.3,807.6 565.6,808.5 567.6,808.1 569.1,807.5 570.6,807.9 572.3,807.3 573.9,807.9 575.6,808.1 577,808 578.6,807 580.2,807.7 582.1,808.1 583.6,808 585,808.4 586.7,807.3 588.2,808.1 589.9,807.6 591.6,808 593.4,808.1 594.5,808.2 596.5,807.6 598,808 599.5,807.3 601.2,807.2 602.7,808.1 604.4,807.8 606.1,807.1" fill="none" stroke="#00b050" stroke-width="8.0" stroke-linecap="round" stroke-linejoin="round"/>
<polyline points="183.2,989.3 183.1,989 183.5,986.6 183.7,985.9 183.6,983.8 183.9,982.5 184.1,980.6 184.2,979.3 184.4,977.2 184.7,975.2 185.1,974.3 185.2,972.8 185.5,971.8 185.7,968.4 185.9,967.6 186.6,966.6 186.5,964 187,962.9 187.5,962.3 187.6,960.5 188.2,957.8 188.6,957.3 188.7,955.6 189.1,953.9 189.2,952.1 189.7,950.4 189.9,948.4 190.1,946.9 190.5,945.9 190.5,944 190.7,943.1 190.7,940.4 190.6,937.8 190.9,937.1 191,935.7 190.9,934.1 191.4,932.4 191.4,930.5 191.7,930.1 191.8,927.7 192.7,926.9 193.8,925 195,923.4 196.4,923.6 197.3,921.4 199.1,921.6 200.2,921.8 201.6,921 203.3,921.2 205,920.5 206.8,920 208.3,921 210.2,919.7 211.7,919.5 213.9,919 215.3,919.1 217.1,919.7 218.3,919.6 220.1,919.4 221.5,919.1 223.3,919.7 224.9,918.7 226.2,919.3 227.9,919.3 229.5,919.1 231.1,919.6 232.8,919.2 234.4,919.2 235.9,920.4 237.7,919.9 239.4,920.2 240.7,919.7 242.5,920.1 244.2,920.1 245.7,920.3 247.3,920.8 249.1,919.7 250.7,919.9 252.3,919.8 253.8,918.3 255.7,919.2 257.3,919.9 258.6,920.2 260.2,919.6 262,920.4 263.4,920.5 265.1,919.8 266.7,920.6 268.2,920.7 269.9,920.2 271.3,919.5 273,920.7 274.5,919.9 276.6,919.8 278.2,920.1 279.7,919.8 281.2,920.5 282.9,920.4 284.6,920.6 286.1,920.3 287.7,919.7 289.1,920 290.9,920.5 292.3,919.9 293.9,921.4 295.5,920 297.3,919.8 299,920.6 300.3,920.5 302.3,920.1 303.9,920 305.2,920.3 306.8,920.5 308.5,920.5 310.2,920 311.7,920.4 313.2,920.6 315,920.5 316.3,918.8 318.2,919.8 319.9,919.9 321.4,920.1 323.1,920.3 324.7,920.6 326.3,920.5 327.8,920.2 329.3,920.3 331,921.1 332.6,920 334.4,920.4 336.1,921 337.5,920.5 339,919.4 340.6,920.5 342.2,920.2 344.1,920.3 345.5,920.9 347.1,920.6 348.6,920.3 350.4,920.9 352,920.7 353.5,920.6 355.2,920.7 357,920.7 358.3,920.4 360.2,920.4 361.7,920.7 363.2,920.2 364.9,920.1 366.4,921.3 367.9,920.6 369.6,920.8 371.1,920.7 372.9,920.8 374.4,920.9 376.1,920.9 377.8,920.6 378.8,921.4 380.9,920.7 382.2,921.5 384.1,920.2 385.6,920.6 387.3,921.6 389.1,921.1 390.3,920.9 392.1,921.4 393.7,920.8 395.1,921.3 397,920.3 398.6,921.1 400.1,921.1 401.7,921.7 403.8,921.8 404.9,921.1 406.4,922.2 408.1,921.3 409.8,920.7 411.4,920.5 413,922.3 414.5,921.6 416.3,921.4 417.8,921.4 419.3,921.3 421,922.4 422.6,921.8 424.4,922.7 426,921.8 427.5,920.9 429.1,922.3 430.7,921.8 432.6,921.9 433.8,922.8 435.6,922 437.2,922.6 438.6,922.1 440.4,921.8 442,922.4 443.5,921.9 445.3,922.8 446.9,922.7 448.6,922.3 450,922.6 451.6,922.6 453.5,922.2 454.7,922.8 456.5,922.3 458.2,922.7 459.7,922 461.4,922.5 462.9,922.7 464.6,922.1 466.3,922.3 467.7,922.3 469.3,922.9 470.9,922.3 472.5,922.8 474.1,923.3 475.6,922.8 477.4,921.9 479.2,922.7 480.8,923.2 482.3,922.6 483.6,923.2 485.6,923 486.9,923 488.6,922.7 490.5,922.6 491.7,922.7 493.5,922.9 495.1,923.1 496.6,923.1 498.1,922.8 499.9,923 501.4,923.1 503.2,922.3 504.9,922.7 506.1,922.7 507.8,923 509.5,922.9 511,923 512.6,922.7 514.3,923.4 515.9,923.3 517.3,922.4 519.1,923.2 520.8,922.7 522.2,924 523.9,923 525.8,923.1 527.4,923.3 528.6,923.2 530.2,923.3 532.1,924 533.5,923.4 535.2,923.7 536.8,923.9 538.5,923 539.7,924.2 541.4,923.7 543.1,923.9 545,923.1 546.5,923.8 547.9,923.7 549.8,923.3 551.4,924.6 552.9,923.8 554.5,923.5 556.2,923.7 557.9,924 559.4,924.1 561,923.9 562.6,924.2 564.1,924.3 565.7,923.1 567.4,923.5 569,923.3 570.6,923.8 572.4,924.4 573.9,924 575.6,923.3 576.8,923.6 578.7,924.3 580.2,923.6 581.8,923.8 583.4,924 585.3,923 586.8,924.2 588.2,924 589.8,924.1 591.5,923.5 593.1,923.6 595,923.7 596.2,924 597.7,924 599.5,924 601.2,924.8 602.8,924.6 604.5,923.7 606.3,923.7" fill="none" stroke="#5b9bd5" stroke-width="7.8" stroke-linecap="round" stroke-linejoin="round"/>
<polyline points="186.5,985.8 187.9,985.5 189.7,984.6 191.3,985.2 193,985.2 194.8,984.4 196.2,984.7 197.3,983.7 198.2,983.5 199.1,981.7 200,979.6 200.5,978.1 201.5,976 202.2,974.2 203.1,973.5 203.8,972.4 204.8,971.8 205.9,970.1 207.2,969.3 208.5,968.3 210.3,968.6 212.1,967.8 213.6,966.9 215.3,967.1 216.7,966.7 218.5,965.3 219.8,966.1 221.6,965.6 223.1,965 224.5,964.7 226.4,965.5 227.9,965.1 229.5,965 231.1,963.5 232.7,963.5 234.2,964 236,962.9 237.4,963 239.1,962.4 240.6,963.9 242.1,963.5 243.8,963.1 245.5,963 247.1,962.6 248.9,962.6 250.1,963 252,962.3 253.3,963.1 255,962.3 256.7,962.1 258.1,963 259.8,962.3 261.6,962.6 263.2,962.1 264.8,961.3 266.3,962.5 268.3,961.6 269.6,962.7 271.2,961.5 273.1,961.4 274.6,962.3 276.1,962.4 277.9,962.2 279.4,961.7 281,962.6 282.6,961.5 284,962 285.9,961.8 287.4,962 288.9,962.6 290.5,961.9 292.3,962.5 293.8,962.5 295.4,961.4 297.1,961.7 298.7,962 300,961.9 302,962.3 303.6,961.3 305.2,962.5 306.9,962.5 308.4,962.1 310,961.6 311.7,962.2 313.1,962 315,962.5 316.6,962.2 318.1,962.5 319.8,962 321.3,962.8 322.7,961.2 324.6,961.7 326.1,962.4 327.7,961.5 329.3,962.5 331,961.7 332.5,962.2 334,961.8 335.7,962 337.4,962.3 338.8,962.2 340.4,962.1 342.1,963.2 343.6,962.3 345.4,961.8 347.1,962.7 348.8,962.7 350.3,962.9 351.9,963.2 353.5,962 355.2,962.9 356.5,963 358.3,962.5 359.9,962.6 361.4,961.2 363,962.3 364.6,963.4 366.2,961.9 367.7,962.5 369.5,962.9 371.1,963.1 372.7,963.6 374.3,962.1 376,963 377.4,963.4 379.1,962.4 380.5,963.1 382,964 383.7,963.8 385.8,963.5 386.9,962.1 388.8,963.2 390.6,963.5 391.9,963.3 393.8,963.4 395.5,964.9 396.9,963.4 398.7,963.1 400.1,963.7 401.5,963.5 403.3,963.5 404.8,963.7 406.3,964.1 407.9,963.9 410,963.3 411.2,963.8 412.9,964.1 414.4,963.8 416.1,964.5 417.7,964.4 419.3,963.7 420.8,964.3 422.4,965.1 424.1,965 425.8,964.3 427.7,964.7 429.1,964.1 430.9,963.8 432.3,964.7 433.8,964.6 435.3,964.8 437,964.6 438.4,964.8 440.2,964.5 442.1,965 443.5,965.2 445.2,964.9 446.6,965.3 448.1,964.2 449.9,964.7 451.5,965.7 453.3,965.9 455,965.3 456.3,965.2 457.9,964.7 459.6,965.5 461.1,965.7 462.6,964.8 464.4,965.7 466.1,965.7 467.7,965.8 469.1,965.1 470.8,965.9 472.2,965 474.2,966.4 475.5,965.9 477.2,965.3 478.8,966.5 480.4,966.5 482,965.7 483.5,967 485.6,965.6 487,966.3 488.6,966.7 490.4,965.2 491.7,966.7 493.4,966.3 495,966.4 496.7,965.9 498.3,966.6 499.8,966 501.4,966.1 503.1,966.4 504.8,966.1 506,967.4 507.8,966.1 509.4,966.4 511,966.6 512.4,966.8 514.4,967.2 515.8,967.3 517.5,966.8 519,966.8 520.5,967 522.3,967.4 523.7,967.4 525.4,966.9 527.1,966.3 528.8,968.2 530.4,967.7 532,967.4 533.9,967.5 535.3,967.2 536.6,967 538.3,967.3 539.9,967.4 541.6,967.3 543.2,966.9 544.7,967.5 546.7,967.9 548.1,967.5 549.6,967.8 551.3,966.8 552.9,967.7 554.7,967.8 556.2,967.3 557.9,967.2 558.9,968.2 561,967.6 562.7,968.3 564.4,967.9 565.8,968.4 567.2,968 569.1,967.5 570.5,968.2 572,968.1 573.7,968.6 575.6,968.1 577.2,968.2 578.7,968.8 580.1,969 582.2,968.8 583.3,969 585.1,968.8 586.5,968.9 588.5,969 590,968.8 591.6,968.7 593.1,968.8 594.7,969.8 596.4,968.8 597.7,968.7 599.7,968.7 601.3,968.9 602.7,969 604.4,968.5 606,968.1" fill="none" stroke="#002060" stroke-width="7.8" stroke-linecap="round" stroke-linejoin="round"/>
<polyline points="183.3,1086.7 183,1084.6 183,1082.8 183.1,1081 182.9,1078.9 183.3,1077.7 182.9,1076.4 182.9,1074.7 183.1,1073.2 183,1071.9 183.3,1070.1 183,1068.5 183.1,1067 183.3,1065.2 183.3,1063.5 183.4,1062.1 183.3,1059.5 183.6,1059.3 183.3,1056.5 183.4,1055.9 183.5,1053.9 183.4,1052.8 183.4,1050.7 183.4,1048.6 183.5,1047.9 183.4,1045.9 183.5,1044.3 183.4,1042.7 183.7,1041.5 183.5,1039.8 184,1037.8 184,1035.3 183.9,1034 183.8,1032.4 183.8,1031.3 184,1028.8 183.9,1026.6 184,1025.2 183.9,1022.6 184.1,1020.6 183.9,1018.6 184.1,1015.8 183.8,1014.8 184,1012.5 184.2,1010.1 184.1,1007.7 184.2,1006.3 184.4,1004.8 184.3,1001.9 184.5,999.7 184.1,998.5 184.5,995.7 184.6,993.6 184.4,992.6 184.5,990.8 184.8,989.3 184.6,987.6 184.8,986.4 185,984.7 185,983.2 185.2,982 185.1,981.3 185.3,980.4 185.6,979.4 185.6,978.4 185.4,975.9 185.9,976.3 185.9,976.1 186,975.9 186.5,974.8 186.9,976 189,975.3 190.6,974.7 193,975 194.7,974.7 196,974.6 197.7,975.6 199.2,975.9 200.7,976.3 202.2,977.6 203.4,978.8 205,979.2 206.5,980.8 207.9,980.1 209.4,981.4 210.9,981 212.7,980 214.3,980.4 215.7,980.7 217.3,979.9 219.2,979.2 220.5,979.6 222.3,980.3 223.8,978.5 225.3,979.3 227.1,978.8 228.7,978.6 230.5,978.3 232.2,978.1 233.5,978.5 235.2,978.1 236.8,977.2 238.2,978.1 239.8,976.6 241.7,977.3 243,976.8 244.7,977.1 246.2,976.5 247.8,976.6 249.4,975.9 251.1,976.1 252.8,975.7 254.2,976.3 255.6,974.8 257.4,975.5 258.8,975 260.5,974.7 262.4,974.3 264.1,974.6 265.5,973.6 266.9,973.5 268.7,974.3 269.9,973.2 271.7,974.4 273.6,973.5 275.1,973.6 276.5,973.4 278,973.5 280,973 281.5,972.9 283,972.9 284.7,973.3 286.2,973.2 287.6,973.2 289.6,972.6 291,972.2 292.5,971.5 294.1,972.4 295.9,972.3 297.4,971.6 299.2,972 300.7,972.1 302.4,971.4 303.8,971.7 305.4,971.2 306.8,970.1 308.6,970.5 310.4,970.4 312.3,970.7 313.3,969.9 315,969.9 316.8,969.6 318.4,969.8 319.8,969.8 321.5,970 322.9,969.8 324.7,969.5 326.5,969.4 328.2,969.2 329.5,969.2 331.1,969.7 332.8,967.9 334.5,968.9 336,969 337.5,969.4 339.2,968.3 340.9,968.9 342.3,969.1 343.8,968.5 345.7,967.8 347.2,968.5 348.9,968.1 350.4,968.9 351.9,968.2 353.6,969.4 355.1,968.6 356.7,968.2 358.4,968.3 360,968 361.8,968.6 363.1,969.1 364.9,968.3 366.4,968.8 368.3,968 369.7,968.5 371.3,969.4 373,967.7 374.5,968.9 376.1,968.8 377.9,967.4 379.4,967.6 381.2,967.8 382.7,968.7 384.3,968 385.8,968.1 387.2,968.5 389.1,968.2 390.6,968.3 392.3,968 393.8,968.6 395.3,967.7 396.9,968.8 398.7,967.9 400.4,967.7 401.8,968.3 403.5,968.2 405.3,967.1 406.6,968 408.2,967.3 409.7,967.5 411.7,968.2 413.1,967.5 414.7,968 416.1,967.6 417.9,968.6 419.7,967.7 421.1,967.2 422.7,967.2 424.5,967.3 425.8,967.7 427.6,967.6 429.3,968 430.7,967.7 432.3,967.6 434,967.7 435.6,967.4 437.2,967.6 438.9,967.8 440.5,967.8 441.9,967.2 443.6,966.6 445.3,967 447,967.5 448.7,966.2 450,967.1 451.8,967.5 453.4,967 454.9,966.7 456.6,968 458.2,967.8 460,967 461.2,967.7 463,967.7 464.5,966.5 466.1,968.2 467.9,966.6 469.5,966.9 470.8,966.5 472.5,967 474.2,966.3 475.6,966.9 477.5,967.3 479,966.9 480.6,966.7 482.3,967.5 484.1,966.4 485.4,967.2 487,966.6 488.9,966.8 490.2,966.7 491.8,966.7 493.3,966.6 495.2,966.2 496.7,966.3 498.4,966.7 499.9,966.5 501.5,966 503,966.2 504.6,966.1 506.4,966.4 508,966.5 509.8,966.4 511.1,966.1 512.7,966.3 514.2,965.7 516.2,965 517.4,966.2 519.3,965.5 521,965.8 522.4,965.7 524.1,966.5 525.3,965.6 527.2,966.2 528.6,965.9 530.5,965.5 532.1,965.3 533.6,966.2 535.4,966.2 536.9,966.3 538.4,966.8 540,966.1 541.5,966 543.3,965.8 545.2,965.9 546.4,965.7 548.2,965.4 549.7,966.7 551.5,964.9 553,965.9 554.5,965.9 555.9,965.8 557.7,965.2 559.5,965.6 561,965.4 562.7,965.1 564.1,965.6 565.6,965.4 567.5,965.3 569.1,965.8 570.6,965 572.2,965.7 573.9,965.2 575.4,965.6 577.1,965.4 578.6,965.5 580,964.9 581.9,965 583.4,964.9 585,965.4 586.8,965.6 588.3,965.7 590,965 591.7,965.2 593.2,964.4 594.5,964.2 596.3,964.7 598.1,964.8 599.5,964.4 601.1,964.3 602.8,965.3 604.5,964.7 606,964.2" fill="none" stroke="#7030a0" stroke-width="8.0" stroke-linecap="round" stroke-linejoin="round"/>
</g>
<text transform="translate(65.70,675.00) scale(0.9937,1)" font-size="46.21" fill="#000">400</text>
<text transform="translate(65.70,781.18) scale(0.9937,1)" font-size="46.21" fill="#000">300</text>
<text transform="translate(65.70,887.35) scale(0.9937,1)" font-size="46.21" fill="#000">200</text>
<text transform="translate(65.70,993.53) scale(0.9937,1)" font-size="46.21" fill="#000">100</text>
<text transform="translate(116.70,1099.70) scale(0.9937,1)" font-size="46.21" fill="#000">0</text>
<text transform="translate(168.20,1154.10) scale(0.9937,1)" font-size="46.21" fill="#000">0</text>
<text transform="translate(252.96,1154.10) scale(0.9937,1)" font-size="46.21" fill="#000">3</text>
<text transform="translate(337.72,1154.10) scale(0.9937,1)" font-size="46.21" fill="#000">6</text>
<text transform="translate(422.98,1154.10) scale(0.9937,1)" font-size="46.21" fill="#000">9</text>
<text transform="translate(495.14,1154.10) scale(0.9937,1)" font-size="46.21" fill="#000">12</text>
<text transform="translate(579.90,1154.10) scale(0.9937,1)" font-size="46.21" fill="#000">15</text>
<text transform="translate(37.70,1054.00) rotate(-90) translate(-1.20,0) scale(0.9946,1)" font-size="50.46" fill="#000">Δ frequency / Hz</text>
<text transform="translate(168.40,1222.50) scale(1.0728,1)" font-size="46.59" fill="#000">development time / s</text>
<text transform="translate(259.00,1277.00) scale(0.9996,1)" font-size="33.84" fill="#000">(b)</text>
<text transform="translate(305.15,1281.60) scale(0.9778,1)" font-size="43.50" fill="#000">high (54 μC/cm<tspan dy="-0.451em" font-size="65%">2</tspan><tspan dy="0.293em">)</tspan></text>
</g>
<g id="plot-c">
<clipPath id="cc"><rect x="183.8" y="1310.1" width="429.99999999999994" height="420.5"/></clipPath>
<line x1="271.2" y1="1730.6" x2="271.2" y2="1717.1" stroke="#000" stroke-width="1.6"/>
<line x1="356.6" y1="1730.6" x2="356.6" y2="1717.1" stroke="#000" stroke-width="1.6"/>
<line x1="442" y1="1730.6" x2="442" y2="1717.1" stroke="#000" stroke-width="1.6"/>
<line x1="527.4" y1="1730.6" x2="527.4" y2="1717.1" stroke="#000" stroke-width="1.6"/>
<line x1="185.8" y1="1394.2" x2="199.3" y2="1394.2" stroke="#000" stroke-width="1.6"/>
<line x1="185.8" y1="1478.3" x2="199.3" y2="1478.3" stroke="#000" stroke-width="1.6"/>
<line x1="185.8" y1="1562.4" x2="199.3" y2="1562.4" stroke="#000" stroke-width="1.6"/>
<line x1="185.8" y1="1646.5" x2="199.3" y2="1646.5" stroke="#000" stroke-width="1.6"/>
<rect x="185.8" y="1310.1" width="427" height="420.5" fill="none" stroke="#000" stroke-width="3.3" stroke-linejoin="round"/>
<g clip-path="url(#cc)">
<polyline points="186.9,1599.2 186.9,1597.1 187.3,1595.7 187.3,1594.1 187.2,1592.6 187.3,1590.2 187.3,1589.3 187.4,1587.3 187.6,1586.6 187.7,1585.1 187.7,1583.5 187.9,1581.6 188.1,1579.6 188.3,1578.5 188.1,1576.5 188.5,1575.2 188.8,1573.1 188.8,1571.6 189,1570.3 189.1,1569.2 189.5,1567 189.5,1566.2 189.7,1564.8 190.1,1561.8 190.6,1560.6 190.5,1558.7 190.6,1557.4 191,1555.7 191.3,1554.2 191.7,1553 191.6,1551.4 191.8,1549.6 192.2,1547.9 192.5,1546.4 192.8,1544.8 193.1,1543.4 193.1,1541.6 193.4,1540.2 193.7,1537.9 194,1537.1 194.2,1535.8 194.4,1533.7 194.5,1531.6 195,1530.9 195.2,1528.8 195.6,1526.2 195.6,1525.6 196,1524.3 195.9,1522.6 196.2,1521.4 196.5,1519.6 196.7,1517.8 196.9,1515.5 197.2,1514.2 197.5,1513.1 197.7,1511.6 198.1,1509.5 198.3,1508 198.5,1506.8 199,1504.4 199.1,1502.8 199.3,1501.8 199.6,1500.4 199.8,1498.6 200.2,1496.4 200.3,1495.6 200.8,1493.5 201.1,1492.6 201.3,1490.8 201.4,1489.3 201.6,1487.9 201.9,1485.9 202.3,1484.8 202.6,1483.3 202.8,1481.5 203.1,1480.2 203.6,1477.9 203.6,1476.9 204.1,1475.1 204.4,1473.1 204.4,1471.8 204.9,1470.1 205.1,1468.5 205.3,1467.1 205.5,1465.9 205.9,1463.8 206.4,1462.4 206.6,1460.3 207,1459.2 207.2,1458 207.6,1456.3 207.9,1454.6 208.1,1452.7 208.4,1451 209,1449.7 209.3,1447.8 209.6,1446.2 210,1445.4 210.5,1443.2 211,1442.6 211.1,1439.9 211.7,1439 212.3,1436.9 212.5,1435.8 213.1,1433.9 213.2,1432.7 214.1,1431.1 214.4,1429.5 214.7,1428.3 215.5,1427.1 216,1424.9 216.6,1423.9 217.1,1422.1 217.5,1420.5 218,1419.8 218.6,1416.8 219.3,1415.8 219.9,1413.9 220.4,1412.9 221.1,1411.4 221.9,1411.4 222.5,1408.7 223.4,1407.7 224.1,1406.1 224.5,1404.1 225.3,1403 226,1402.1 226.8,1400.2 227.8,1398.8 228.5,1397.6 229.4,1395.5 230.5,1394.5 231.6,1393.5 232.5,1392.3 233.5,1390.6 234.7,1389.6 235.7,1388.5 236.8,1387.3 238,1386.5 239,1385.3 240.3,1384.2 241.5,1382.7 243,1381.8 244.3,1381.4 245.5,1379.8 247.1,1379.6 248.3,1378.6 249.9,1377.8 251.3,1377.7 252.7,1376.6 254.1,1376 255.8,1375.5 257.3,1375.2 258.8,1375.7 260.5,1373.6 261.8,1374 263.5,1373.6 265.1,1373.6 266.5,1372.9 268.3,1371.8 269.7,1372.9 271.2,1371.8 273,1371.9 274.6,1371.3 276.3,1371.2 277.8,1371.2 279.6,1371.6 281.2,1371.4 282.7,1370.8 284.4,1371.1 285.9,1370.6 287.4,1370.7 289.1,1370.6 290.7,1370.7 292.3,1370.2 293.8,1370.2 295.3,1370.3 297.1,1370.1 298.7,1369.8 300.1,1370.6 301.9,1369.7 303.6,1370.1 305.1,1369.8 306.8,1370.1 308.4,1368.9 309.8,1370.3 311.5,1369.4 313.2,1369 314.8,1369.4 316.5,1370.1 317.7,1369.5 319.5,1368.8 321.2,1369 322.9,1369.6 324.5,1368.6 325.9,1369 327.5,1368.9 329.1,1369.7 330.9,1368.8 332.2,1369.3 334.1,1368.6 335.7,1368.5 337.2,1369.1 338.6,1369 340.3,1368.1 342.1,1368.9 343.5,1368.9 345.2,1368.4 346.8,1368.7 348.5,1368.6 350.1,1368.3 351.7,1368.3 353.2,1368.2 354.9,1368.3 356.4,1367.9 358.1,1368.3 359.7,1367.8 361.4,1368.3 362.7,1368.2 364.6,1367.9 366.1,1368.5 367.8,1368.9 369.3,1368.6 371,1367.7 372.7,1368.5 374.1,1368.2 375.7,1368 377.3,1367.8 379,1368 380.4,1368.5 382.1,1368.2 383.7,1367.8 385.3,1367.7 386.9,1367.8 388.4,1368.1 390.3,1368.5 391.8,1367.5 393.6,1367.8 394.9,1367.7 396.5,1367.5 398.2,1367.9 399.6,1368 401.4,1367.3 403,1367.4 404.6,1368.2 406.3,1367.9 407.8,1367.9 409.6,1367.5 411.1,1367.6 412.5,1367.9 414.4,1367.5 415.7,1367.3 417.5,1367.7 419,1368 420.6,1367.3 422.4,1368 423.8,1367.9 425.4,1367.3 427.1,1367.6 428.7,1367.6 430.5,1367.8 431.8,1367.8 433.4,1367.2 435.2,1367.1 436.6,1368 438.3,1367.6 440.1,1367.7 441.6,1367.7 443.1,1368.1 444.7,1367.2 446.3,1367.9 447.9,1367.3 449.6,1367.8 451.3,1368 452.9,1367.1 454.3,1367.7 455.9,1367.4 457.7,1367.4 459,1367.5 460.8,1367.2 462.4,1367.2 463.9,1367.7 465.5,1367.8 467.3,1367.3 468.7,1367 470.4,1368.3 472,1367.9 473.7,1367.6 475.1,1367.1 477,1367.3 478.5,1367.5 480.1,1367.1 481.7,1368 483.2,1367.5 484.8,1367.6 486.6,1367.1 488.1,1367.1 489.7,1367.1 491.4,1367.5 492.9,1367.3 494.6,1367.3 496.2,1367.5 497.7,1367.4 499.4,1367.9 500.8,1367.3 502.6,1367 504.1,1367.3 505.8,1367.8 507.5,1367.1 509.1,1367.3 510.5,1367.2 512.2,1367.4 513.8,1367.3 515.3,1367 516.9,1367.2 518.6,1367.5 520.3,1367.6 521.7,1367.5 523.4,1367.5 525.1,1367.1 526.7,1367 528.2,1367.5 530,1366.7 531.4,1367.1 533.2,1366.5 534.9,1367 536.1,1366.9 537.9,1366.7 539.5,1367.3 541.1,1366.8 542.6,1366.9 544.3,1367 545.8,1366.8 547.5,1367.5 549.2,1366.8 550.7,1367.1 552.3,1366.5 553.9,1366.8 555.6,1366.8 557.2,1366.8 558.8,1366.7 560.4,1367 561.8,1367.4 563.3,1366.8" fill="none" stroke="#ff0000" stroke-width="8.0" stroke-linecap="round" stroke-linejoin="round"/>
<polyline points="187.9,1646.2 188,1644.8 188.1,1642.3 188.1,1640.9 188.3,1639.6 188.1,1638.2 188.3,1636.5 188.3,1635.1 188.6,1633.1 188.5,1631.6 188.7,1630 188.8,1628.1 188.7,1627.1 189,1625.3 189,1623.8 189.2,1621.7 189.3,1620.6 189.6,1618.3 189.7,1617.2 190,1614.5 190,1613.5 190.1,1612.5 190.3,1610.5 190.6,1609.1 190.9,1606.9 191,1606.4 191.1,1604.4 191.4,1602.6 191.6,1601.2 191.9,1599.5 192,1598.3 192.1,1596.3 192.6,1594.2 193,1593 193.2,1591.9 193.2,1590.1 193.7,1588.2 193.8,1587 194.4,1585.2 194.6,1583.8 194.7,1581.5 195.3,1580.1 195.4,1579.1 195.9,1577.2 196.2,1575.8 196.4,1574.8 197,1572.4 197.2,1571 197.8,1569.2 198.1,1567.6 198.4,1566.2 198.8,1564.2 199.5,1562.4 199.9,1562 200.1,1560 200.9,1558.9 201.2,1557 201.6,1555.5 202.1,1554.1 202.6,1552.6 203.3,1550.4 203.7,1549.8 204,1547.5 205,1546.4 205.5,1545.8 205.9,1543.4 206.7,1542.5 207.3,1540.3 208.1,1539.2 208.8,1537.6 209.5,1536.2 210.1,1534.3 210.8,1532.9 211.7,1531.9 212.4,1529.8 213.3,1528.6 213.8,1527.6 214.7,1525.8 215.3,1524.3 216,1522.8 216.9,1521.8 217.6,1520.2 218.2,1518.9 219.1,1517.4 220,1516.7 220.6,1514.5 221.6,1512.6 222.3,1511.9 223,1510.4 224,1509.1 224.9,1507.1 225.6,1506.7 226.3,1504.9 227.3,1503.5 228.1,1501.6 228.7,1500.9 229.6,1499.3 230.4,1498.4 231.3,1496.5 232,1494.8 233.1,1493.9 233.9,1492.2 234.8,1491.3 235.8,1489.4 236.5,1488.4 237.4,1487.1 238.4,1485.8 239.2,1484.3 240.2,1482.9 241.2,1481.9 242.1,1480.4 243.2,1479.4 244,1477.9 245.1,1476 245.9,1475.5 247.1,1474.7 248.1,1473.1 249.3,1472 250.3,1470.8 251.4,1469.2 252.6,1467.8 253.7,1467.3 254.7,1466.2 255.7,1464.9 256.8,1463.7 258.1,1462.6 259.3,1461.4 260.5,1460.5 261.7,1459.4 262.9,1458.5 264.5,1457.1 265.5,1456.2 266.9,1455.7 268.3,1454.5 269.5,1452.9 271.1,1452.9 272.5,1451.3 273.8,1452 275.2,1450.8 276.7,1450 278,1448.9 279.9,1448.2 281.2,1448.1 282.7,1447.8 284.3,1447.2 286,1447.2 287.7,1447.1 289,1446.9 290.7,1446.2 292.2,1445.7 294,1446.5 295.6,1446.4 297.4,1447 298.7,1447.7 300.3,1448 301.8,1447.9 303.6,1448.5 304.9,1449 306.8,1448.8 308.3,1449.1 309.8,1449.6 311.4,1449.6 313.2,1449.7 314.8,1449.8 316.2,1450.3 317.9,1450.2 319.6,1450.6 321,1450.2 322.6,1450.8 324.2,1450.7 325.9,1449.8 327.5,1450.5 329.1,1449.9 330.6,1450.4 332.2,1450 333.8,1449.7 335.4,1449.8 337.2,1449.3 338.7,1449.4 340.3,1449.3 342,1448.9 343.6,1448.8 345,1448.1 346.6,1448.4 348.4,1447.5 349.9,1447.9 351.4,1447.6 353.1,1447.3 354.7,1446.6 356.4,1447.6 357.7,1446.2 359.5,1446.1 361.1,1445.6 362.5,1446.1 364.3,1445.2 365.9,1445.4 367.3,1444.6 369.2,1444.7 370.5,1444.3 372.1,1444.5 373.7,1443.9 375.4,1443.4 377,1443.6 378.5,1442.9 380.3,1442.7 381.8,1443.1 383.5,1442 385.2,1442.6 386.5,1442 387.9,1441.6 389.7,1441.7 391.2,1441.6 392.9,1441 394.5,1440.9 396,1441.1 397.6,1440.9 399.3,1440.4 400.9,1440.1 402.2,1439.8 404.2,1439.8 405.7,1440.1 407.3,1439.9 408.9,1439.7 410.4,1439.9 412.1,1439.2 413.8,1439.1 415.4,1439 417,1439.6 418.5,1438.2 420.1,1438.8 421.9,1438.8 423.4,1438.5 424.9,1439.2 426.4,1438.7 428.1,1438.5 429.6,1437.8 431.5,1438.2 433,1437.8 434.5,1437.8 436.2,1437.8 438.1,1437.5 439.6,1437.7 440.9,1438 442.6,1437.7 444.1,1437.3 445.7,1436.5 447.5,1437.4 449.3,1437.3 450.8,1436.8 452.3,1436.6 453.9,1436.9 455.5,1436.3 457.2,1436.8 458.6,1436.1 460.1,1436 462.1,1436.3 463.6,1435.7 465.3,1436.1 466.8,1436.2 468.5,1435.5 469.9,1436.2 471.6,1435.6 473.4,1435.9 474.9,1435.7 476.4,1435.4 478.1,1435.3 479.6,1434.9 481.1,1435.1 482.9,1435 484.6,1435.7 486.2,1435.5 487.5,1434.6 489.4,1435.3 491,1435 492.5,1434.7 493.9,1434.9 495.8,1435 497.4,1434.4 499,1434.4 500.4,1434.5 502,1434 503.9,1434.3 505.5,1434.2 507,1433.9 508.6,1433.8 510.2,1434.1 511.8,1434.2 513.4,1433.9 514.9,1433.4 516.7,1433.9 518.2,1433.6 520,1433.7 521.5,1433.8 523,1433.1 524.9,1433.3 526.2,1433.1 527.9,1433 529.6,1433.9 531.2,1433.5 532.5,1432.6 534.4,1433.3 536.1,1433 537.7,1433.6 538.9,1433.3 540.7,1433.3 542.4,1433.6 543.9,1433.8 545.7,1433.8 547.1,1433.8 548.9,1434 550.5,1434.4" fill="none" stroke="#ed7d31" stroke-width="8.0" stroke-linecap="round" stroke-linejoin="round"/>
<polyline points="189.2,1665.6 190.9,1665.8 192.9,1665.9 194.7,1666.1 196.2,1666.4 198.1,1666 199.6,1666.4 201.2,1665.5 202.2,1665 203.6,1666 204.5,1665.9 205.6,1664.9 206.6,1663.6 207.6,1662.8 208.4,1661.9 209.2,1659.6 210,1657.6 210.9,1655.8 211.8,1655.1 212.7,1652.7 213.7,1651.5 214.7,1650.3 215.8,1649.1 216.5,1647.2 217.8,1646.7 219,1645.6 220.1,1644.3 221.4,1643.4 222.6,1641.7 223.7,1640.8 224.8,1639.5 226.1,1638.8 227,1637.2 228.1,1636.4 229.3,1634.7 230.4,1633.8 231.6,1632.5 232.5,1631.4 233.6,1630.3 234.6,1629 235.6,1627.8 236.8,1626 237.6,1625.9 239,1624.1 240.1,1623 241.1,1621.6 242.1,1621 243.3,1619.1 244.2,1618.4 245.4,1617.4 246.6,1616.4 247.6,1615.1 248.7,1613.8 249.8,1612 251,1611.8 252.2,1610.7 253.4,1609.5 254.7,1608.4 255.7,1607.1 257.1,1605.9 258.5,1605.5 259.7,1604.8 261.2,1603.2 262.5,1603.1 264.1,1602.2 265.6,1601.7 267.2,1600.9 268.6,1600.6 270,1600.1 271.7,1599.6 273.2,1598.6 274.9,1599.1 276.1,1598.6 278,1598 279.4,1598.5 281.3,1597.6 282.8,1598.3 284.4,1598.6 286.1,1597.9 287.6,1598.6 289.1,1598.8 290.8,1599.2 292.4,1598.8 293.9,1599.9 295.4,1600.1 296.9,1600.7 298.7,1600.8 300.1,1601.4 301.7,1601.4 303.3,1601.8 304.9,1602.3 306.5,1602.2 308.3,1602.7 309.8,1602.7 311.5,1603 313.1,1602.8 314.5,1603.4 316.2,1603.7 317.9,1603.3 319.6,1603.6 320.8,1603.4 322.4,1602.7 324.2,1603 325.7,1603.1 327.2,1602.2 328.9,1601.4 330.4,1601.8 331.8,1601.2 333.6,1601.7 335.2,1600.7 336.8,1600.3 338.4,1599.7 339.9,1599.6 341.4,1598.9 342.8,1598.3 344.3,1598.1 345.9,1597.3 347.6,1597.5 349,1596 350.7,1595.8 352,1595 353.3,1594.2 355.1,1594.7 356.6,1592.8 357.9,1593.5 359.4,1592 361.1,1591.9 362.7,1592.2 364,1590.1 365.6,1589.9 367.1,1590.3 368.5,1589.4 370.1,1588.6 371.7,1588.3 373.2,1587.4 374.7,1587.3 376,1587.2 378,1586.1 379.2,1585.8 380.8,1585.6 382.3,1585.4 384,1584.1 385.3,1583.9 387,1583.1 388.5,1582.7 390.2,1582.3 391.5,1581.7 393.1,1580.9 394.7,1580.3 396.4,1580.3 397.6,1580.1 399.3,1580 400.7,1578.9 402.3,1578.4 403.9,1578.2 405.3,1577.6 406.9,1576.8 408.4,1576.2 409.8,1576.3 411.3,1575 412.7,1574.4 414.3,1573.4 415.8,1573.6 417.4,1572.8 419,1573 420.5,1571.8 422,1571.7 423.6,1571.2 424.8,1570.9 426.6,1569.4 428.1,1569.9 429.6,1568.9 431,1568.4 432.7,1567.9 434.3,1567.4 435.9,1567 437.3,1565.8 438.9,1566.4 440.5,1565.8 442.2,1565.1 443.7,1565 445.1,1565.4 446.7,1564.4 448.2,1563.8 449.8,1564.2 451.3,1563 453,1562.9 454.4,1562.4 456,1562.2 457.7,1562.2 459.2,1561.9 460.8,1561.1 462.2,1561 464.1,1560.8 465.6,1560.4 467.1,1560.2 468.8,1559.7 470.3,1559.5 471.8,1559.5 473.7,1558.9 475,1559.1 476.8,1558.7 478.5,1558.2 479.8,1558.1 481.5,1557.9 483,1557.8 484.7,1557.6 486.2,1557.3 487.7,1556.8 489.5,1557.4 491.1,1557 492.5,1556.5 494.3,1556.5 495.8,1556.1 497.6,1555.6 499.1,1555.5 500.5,1556.1 502.1,1555.3 503.6,1555.1 505.3,1554.4 506.9,1554.5 508.5,1554.8 510.1,1553.9 511.5,1553.9 513.2,1553.8 515,1553.3 516.5,1553.4 518,1552.7 519.6,1552.6 521.2,1552 522.8,1552.9 524.2,1551.9 526.1,1551.6 527.5,1551.8 529.2,1550.9 530.5,1550.9 532.4,1550.4 534.1,1550.5 535.3,1550.2 537.3,1550.3 538.8,1550 540.3,1549.6 541.8,1549.6 543.7,1549.5 545.2,1549.3 546.8,1549.7 548.3,1549.5 549.9,1549.2 551.6,1548.6 553.1,1549.1 554.9,1548.4 556.2,1548.8 557.9,1548.7 559.4,1548.3 561.3,1548.1 562.6,1548.1 564.3,1548.9 566,1547.9 567.6,1547.8 569.4,1548 571,1547.7 572.4,1547.7 574,1546.8 575.4,1546.7 577.1,1548 578.7,1546.7 580.3,1546.4 581.8,1546.4 583.5,1546.5 585.1,1545.7 586.9,1546 588.4,1545.8 589.9,1545.9 591.5,1545.6 593.2,1545.2 594.7,1544.9 596.3,1544.3 597.8,1545.3 599.6,1544.3 601.3,1544.6 602.8,1545.2 604.4,1544.3 606,1544.6 607.8,1544.2 609.2,1544.4 610.7,1544 612.3,1543.7 614.1,1544.3" fill="none" stroke="#00b050" stroke-width="8.0" stroke-linecap="round" stroke-linejoin="round"/>
<polyline points="186.7,1655.4 187.1,1657.1 187.1,1658.9 187.4,1660.4 187.9,1661.4 188,1663.2 188.7,1664.2 189.1,1665.9 189.8,1666.8 190.9,1668.5 192.4,1669.7 193.4,1670.3 195,1672.2 196.5,1673.1 198,1673.1 199.7,1674 201.3,1674.3 202.6,1673.9 204.2,1674 205.6,1673.3 207.5,1673.1 208.6,1672.1 210.4,1671.4 211.9,1670.9 213.4,1670.3 214.7,1669.5 216.1,1668.6 217.6,1667.7 219,1667 220.3,1666.1 221.6,1665.5 223.1,1664.5 224.5,1663.5 225.7,1662.6 227,1661.7 228.3,1661.2 230,1660.2 231.1,1658.7 232.5,1658.2 233.9,1657.1 235.4,1656.4 236.7,1655.5 237.8,1654.5 239.3,1653.4 240.6,1652.2 242,1652.2 243.3,1651.7 244.7,1650.2 246,1649.8 247.5,1648.6 248.8,1647.9 250,1646.7 251.3,1645.9 252.7,1645 254.2,1643.3 255.4,1643.3 256.7,1642.2 257.7,1640.5 259.3,1640.6 260.6,1639.5 262,1638.7 263.2,1637.8 264.7,1636.6 266,1635.4 267.7,1634.8 268.9,1633.9 270.2,1634.1 271.7,1633.4 273.2,1632.2 274.7,1631.7 276.2,1631.5 277.9,1631.2 279.6,1630.5 281.2,1630.1 282.7,1631 284.4,1630.6 285.9,1629.8 287.4,1629.7 288.9,1630 290.6,1630.4 292.3,1630.5 294,1630.2 295.6,1629.7 297.1,1630.4 298.7,1630.5 300.5,1630.3 302.1,1630.1 303.5,1630.5 305.2,1630.3 307,1629.9 308.5,1630.3 310,1629.9 311.4,1630.8 313.4,1630.7 314.9,1630.3 316.5,1630.8 318,1631.3 319.5,1630.3 321.3,1631.1 322.9,1631.8 324.6,1630.8 326,1631.3 327.9,1631 329.3,1631.5 331,1630.7 332.4,1630.9 334.2,1631.2 335.9,1631.4 337.4,1631.4 338.8,1631.4 340.5,1631.6 342.2,1631.3 343.6,1631.2 345.3,1630.5 347,1630.7 348.5,1631.7 350.3,1631.3 351.7,1630.7 353.2,1630.5 354.9,1630.4 356.8,1629.8 358.1,1630.4 359.8,1629.4 361.4,1629.3 362.9,1629.8 364.7,1628.1 366.2,1628.6 367.8,1627.7 369.2,1627.8 370.8,1627.7 372.2,1627.3 374.1,1627.2 375.7,1626.7 377.4,1626.7 379,1626.1 380.5,1626.1 382.1,1625.5 383.7,1626 385.4,1625.1 386.8,1625.6 388.5,1625 390,1624.8 391.6,1625 393.3,1624.4 394.7,1623.5 396.3,1624 398.1,1622.6 399.6,1623.4 401.1,1622.8 402.7,1622.2 404.3,1622.3 405.8,1621.8 407.5,1622.2 409,1620.9 410.7,1621.3 412.2,1620.8 413.8,1619.7 415.2,1619.3 416.8,1619.7 418.3,1618.9 420.3,1618.7 421.5,1618.3 423.2,1617.7 424.9,1617.8 426.2,1617.4 427.8,1617 429.5,1617.2 431,1617.8 432.6,1617.5 434.3,1616.7 436,1616.6 437.6,1616.6 439.1,1616.7 440.7,1616.1 442.1,1615.6 444,1615.5 445.5,1615.8 447,1616.1 448.7,1614.7 450.3,1614 451.8,1614.7 453.4,1614.2 455,1614 456.6,1614.2 458.3,1613.6 459.9,1612.9 461.5,1612.4 463,1612.9 464.6,1612.3 466.5,1612.7 467.6,1612 469.6,1612.2 471.1,1611.7 472.7,1611.9 474.2,1611.8 475.8,1612.1 477.3,1612.2 478.9,1611.6 480.7,1611.2 482.1,1612.1 484,1611.5 485.6,1611.5 486.7,1611.4 488.5,1611.6 490.3,1611.3 491.9,1611.1 493.5,1611 495.2,1610.3 496.8,1610.3 498.4,1610.4 500.1,1610.3 501.6,1610.2 503.2,1610.2 504.6,1609.9 506.4,1609.7 507.8,1609.1 509.7,1609.9 511.4,1609.7 512.8,1609.1 514.3,1609.4 516,1609.3 517.6,1609.1 519.2,1608.3 520.9,1608.4 522.5,1608.5 523.8,1609.2 525.8,1608.2 527.2,1608.3 528.8,1607.9 530.6,1608 532,1608.2 533.5,1607.3 535.1,1606.9 536.9,1608.1 538.6,1607.8 540.3,1607.5 541.7,1607.9 543.3,1607.9 545.1,1606.7 546.5,1607.4 548.3,1607.7 549.8,1607.1 551.4,1607.1 552.9,1607.5 554.6,1607.1 556.1,1606.7 557.7,1606.8 559.4,1606.5 560.9,1607.1 562.6,1606.2 564.2,1607.1 565.8,1606.1 567.4,1606.6 569,1606 570.8,1606.3 572.2,1606.7 573.8,1606.6 575.4,1606.6 577.1,1606 578.6,1605.9 580.3,1605.9 581.9,1605.9 583.5,1605.4 585.1,1605.9 586.7,1605.5 588.1,1605.7 589.8,1605.3 591.2,1605.3 593.2,1604.7 594.8,1604.7 596.5,1604.3 598,1604.5 599.7,1604.5 601.1,1604.7 602.7,1603.9 604.2,1605.4 605.9,1604.1 607.5,1604.5 609.3,1604.3 611,1602.9 612.3,1603.6 614,1604.1" fill="none" stroke="#0070c0" stroke-width="8.0" stroke-linecap="round" stroke-linejoin="round"/>
<polyline points="186.8,1655.1 187,1657.2 187.3,1659.2 187.4,1661.6 187.8,1663.1 188,1664.8 188.7,1665.7 189.2,1666 190,1665.9 190.9,1665.8 192.3,1664.8 193.9,1664.8 195.5,1663.2 197.3,1663 199.4,1662.3 200.8,1661 202.7,1660 204,1660.1 205.6,1658.9 206.8,1658.6 208.3,1657.7 209.6,1656.6 211,1655.7 212.4,1655.2 213.6,1654.1 215.1,1652.8 216.5,1652.3 218,1651.7 219.3,1650.9 220.6,1650.2 222.2,1649.6 223.7,1649 225.2,1648.2 226.9,1647.5 228.4,1648 230,1646.9 231.4,1646.8 233,1645.8 234.7,1646 236.1,1645.3 237.8,1646.3 239.4,1644.6 240.9,1644.3 242.6,1644.7 244,1644.5 245.8,1643.2 247.2,1643.8 248.8,1644 250.7,1643.3 252.1,1644.2 253.6,1644 255.5,1644.2 256.9,1644.8 258.1,1645.1 259.9,1645.3 261.4,1647.2 262.7,1647.1 264.2,1647.9 265.4,1649.4 266.7,1650.1 267.9,1651.6 269.3,1652.1 270.8,1653.4 272,1654.2 273.3,1655.2 274.3,1656 275.8,1657 277,1658.6 278.5,1658.8 279.7,1659.8 281.1,1660.8 282.3,1662 284,1662.7 285,1663.7 286.6,1663.6 288.3,1665 289.5,1665.5 290.9,1666.1 292.6,1666.9 294.1,1666.7 295.6,1667.8 296.9,1668.1 298.7,1667.9 300,1668.7 302,1669.5 303.4,1669.1 304.9,1669.7 306.7,1669.6 308.2,1669.6 309.7,1669.8 311.6,1670.1 313,1670.9 314.5,1670.9 316.4,1670.6 318,1671.4 319.6,1671.2 321.1,1671.2 322.6,1671.7 324.4,1671.5 326.1,1671.4 327.6,1672.6 329.2,1671.6 330.6,1672.6 332.4,1672.1 334,1672.7 335.3,1672.8 336.9,1672.9 338.6,1672.4 340.3,1673.3 342,1673.4 343.5,1673.2 345.1,1673.6 346.7,1674.1 348.4,1673.6 350,1674 351.6,1673.6 353.2,1674.3 354.8,1674.4 356.3,1675.2 358.1,1674.7 359.6,1674.6 361.4,1675.1 362.8,1674.3 364.5,1675.2 366,1674.7 367.6,1674.8 369.3,1675.5 370.9,1675.4 372.4,1675.9 374,1675.1 375.7,1675.8 377.3,1675.7 378.9,1675.9 380.6,1675.5 382.1,1676.6 383.5,1676.5 385.3,1676.2 386.7,1676.2 388.4,1676.5 390.2,1677.4 391.8,1677 393.3,1677 394.9,1677.4 396.5,1677.3 398,1677.4 399.8,1677.7 401.3,1677.6 403.2,1677.9 404.5,1677.2 406.3,1677.7 407.7,1677.6 409.5,1677.9 410.9,1677.9 412.7,1677.7 414.2,1677.9 415.8,1678.4 417.5,1677.9 419.1,1677.8 420.7,1678.4 422.5,1678.6 424,1678.2 425.3,1678.4 427.1,1678.1 428.5,1678.4 430.3,1678.9 432,1678.8 433.4,1678.7 435.1,1678.5 436.8,1678.1 438.4,1678.8 440.2,1678.9 441.7,1679.1 443.3,1679.5 445,1679 446.4,1679.2 448.1,1678.5 449.6,1679.3 451.3,1679.2 453,1679.4 454.7,1679.2 456.1,1679.2 457.7,1679.5 459.3,1678.8 460.8,1679.3 462.6,1679.5 464.3,1678.9 465.6,1678.8 467.2,1679.3 469.2,1679.3 470.5,1679.4 472.3,1679.5 473.7,1679 475.6,1679.4 477.2,1679.7 478.7,1679.2 480.4,1679.3 481.9,1679 483.6,1679.7 485.3,1680.1 486.9,1679 488.3,1679.7 489.9,1679.8 491.6,1679.3 493.2,1679.4 494.8,1679.2 496.3,1679.3 498.1,1679.6 499.6,1679.8 501.3,1679.6 502.9,1679.9 504.5,1679.6 506,1679.2 507.9,1680.1 509.3,1680 511,1679.4 512.6,1680.2 514.2,1679.8 515.8,1679.7 517.4,1680.3 518.9,1678.8 520.4,1679.1 522.2,1679.8 523.8,1679.5 525.4,1679.3 527.3,1680.1 528.4,1679.8 530.2,1679.1 532,1679.4 533.6,1679.9 535.2,1680.2 536.6,1678.9 538.2,1679.6 540,1679.4 541.5,1678.9 543.3,1679.5 544.8,1679 546.4,1679.3 548,1680 549.5,1679.7 551.2,1679.7 552.7,1679.7 554.4,1679.6 556,1679.8 557.7,1679 559.1,1679.3 560.7,1679.7 562.5,1679.1 564.1,1679.2 565.6,1679.7 567.3,1679.8 568.8,1679.1 570.7,1679 572,1679.4 573.9,1679.3 575.3,1679 577,1679.4 578.5,1679.3 580.1,1679.1 581.9,1680.1 583.5,1679.5 585,1679.3 586.5,1679.4 588.5,1680 590,1679.3 591.5,1678.7 593,1679 594.7,1678.9 596.3,1678.6 598,1678.9 599.4,1678.8 601.1,1678.7 602.7,1678.5 604.5,1678.9 606.1,1678.1 607.6,1678.9 609.2,1678.5 610.9,1678.6 612.4,1677.6 613.9,1679" fill="none" stroke="#1f4e79" stroke-width="8.0" stroke-linecap="round" stroke-linejoin="round"/>
<polyline points="187.2,1645.7 186.9,1648.9 186.8,1651.7 187.2,1654.9 187.5,1656.9 187.2,1658.3 187.9,1660.8 187.7,1662.2 188,1664.1 188.1,1664.4 188.4,1665.1 188.5,1665.9 188.8,1666.1 189,1665.6 189.7,1665.8 189.9,1664.7 190.7,1663.8 191.3,1662.4 191.9,1659.2 192.7,1657.3 193.3,1655.5 193.9,1653.9 194.5,1652.4 195.1,1651.1 195.5,1650 196,1647.6 196.5,1646 197.1,1644.3 197.8,1643.8 198.3,1642.3 198.7,1639.8 199.3,1638.2 199.7,1637.3 200.4,1636.2 200.9,1634.6 201.5,1632.9 202.1,1631.6 202.8,1630 203.7,1628.3 204.1,1627.8 205,1625.6 205.7,1623.8 206.8,1622.6 207.8,1620.8 208.4,1619.9 209.1,1618.9 210.5,1616.8 211.5,1616.4 212.4,1615.6 213.6,1614 214.8,1612.5 215.8,1611.7 217.4,1610.9 218.8,1609.7 220.3,1608.9 221.7,1608.5 223.2,1607.9 224.8,1607.8 226.4,1606.9 227.9,1607.8 229.7,1607.4 231.3,1607.2 232.7,1606.5 234.7,1607.3 236.1,1606.5 237.6,1607.3 239.1,1607.2 240.4,1607.1 242,1608.1 243.1,1609.9 244.6,1610.6 246.2,1611.3 247.5,1612.4 248.6,1613.4 249.7,1614.1 251.1,1615.4 252.2,1616.4 253.4,1617.6 254.6,1619 255.7,1619.4 257.2,1620.9 258.3,1621.5 260.1,1622.6 261.1,1623.5 262.7,1624.4 264.1,1624.9 265.7,1625.7 267.2,1626 268.7,1626.9 270.2,1627 271.7,1627.7 273.1,1628.5 274.4,1628.7 275.9,1629.2 277.5,1629.1 279.3,1630.3 280.9,1629.9 282.5,1630.5 284.1,1630.7 285.6,1631.3 287.2,1631.1 288.7,1631.2 290.3,1631.1 292.2,1632 293.8,1631.9 295.1,1632.8 296.8,1633.4 298.5,1632.4 300.2,1633 301.5,1633.8 303.2,1634.4 304.9,1634.4 306.2,1634.6 307.9,1635 309.5,1635.2 311.1,1635.9 313,1635.8 314.4,1635.4 315.9,1635.9 317.4,1636.4 319.2,1636.4 320.7,1636.8 322.2,1637 323.8,1637.3 325.2,1638 327,1638 328.7,1638 330.3,1638.4 331.8,1639 333.4,1640 334.8,1639.7 336.4,1640.4 338.2,1640.3 339.7,1639.7 341.2,1640.8 342.9,1640.7 344.5,1640.8 346.1,1641.2 347.6,1642.5 349.1,1641.6 350.8,1642.2 352.5,1643.1 353.9,1643.2 355.4,1642.7 357.1,1643.5 358.5,1643.6 360.3,1644 361.8,1644.6 363.6,1644.3 365.1,1644.6 366.8,1645.4 368.5,1644.4 369.8,1645.1 371.4,1645.6 373.1,1645.1 374.6,1645.5 376.3,1645.4 377.8,1646 379.5,1645.9 381.1,1646.5 382.4,1646.8 384.2,1646.6 385.9,1646.5 387.6,1646.9 389,1647 390.6,1646.6 392.4,1647.6 393.8,1647.4 395.5,1647.8 397.2,1647.1 398.8,1648.1 400.3,1648.6 401.8,1648.2 403.6,1647.6 405.1,1648.3 406.7,1648.4 408.6,1648.6 410,1648.6 411.4,1649 413.1,1648.8 414.7,1649.1 416.3,1648.9 417.8,1649.4 419.7,1649.8 421.3,1649.5 422.8,1650 424.3,1649.6 426,1650 427.7,1650.2 429.1,1650.9 430.7,1650.3 432.3,1651.2 434.1,1650.4 435.6,1651.1 437,1651.6 438.7,1651.7 440.6,1651.2 441.9,1651.3 443.6,1652.2 445.1,1651.5 446.9,1652.3 448.4,1652.1 450,1652.4 451.5,1653.3 453.2,1653.2 454.9,1653.1 456.5,1652.4 457.9,1653.1 459.8,1653.1 461.2,1653.2 462.8,1653.8 464.5,1652.8 466,1653.6 467.6,1653.6 469.2,1653.3 470.9,1654.3 472.5,1653.3 473.9,1653.8 475.8,1653.9 477.3,1653.1 479.1,1653.4 480.6,1653.6 482.2,1654.3 483.8,1654.4 485.5,1654.3 487,1654.3 488.5,1653.4 490.2,1654.4 491.5,1654.2 493.4,1654.8 495.1,1655 496.6,1655.3 498.4,1654.9 499.9,1655 501.5,1654.4 503,1654.9 504.8,1654.5 506.2,1655.4 507.9,1654.7 509.6,1655.1 511.2,1655 512.9,1655.2 514.3,1655.6 515.7,1655.3 517.6,1655.7 519.3,1655.3 520.7,1656.3 522.5,1655.6 524.2,1656.3 525.5,1656.8 527.1,1655.2 528.7,1655.8 530.5,1656.2 532.1,1656.7 533.7,1656.2 535.1,1656.6 536.8,1656.3 538.3,1656.9 539.9,1656.3 541.5,1657.1 543.1,1655.9 544.8,1656.4 546.5,1657.8 548.1,1657.4 549.7,1657.1 551.2,1658.4 552.9,1658.1 554.6,1658.2 556.1,1657.8 557.7,1658.3 559.3,1658.4 560.9,1657.7 562.5,1658.6 564,1658.4 565.9,1659 567.2,1659 569,1658.4 570.4,1658.4 572.3,1658.8 573.9,1659 575.3,1658.6 577,1658.8 578.5,1659.1 580.2,1659 581.9,1659.4 583.7,1659.1 584.9,1658.7 586.8,1658.5 588.2,1659.4 589.9,1659.1 591.6,1659.1 593.2,1659.2 594.8,1658.8 596.3,1659.3 597.9,1658.6 599.5,1659.5 601.3,1659.3 602.6,1660.4 604.3,1660 605.8,1659.8 607.5,1660 609.1,1660.3 610.9,1659.9 612.6,1660.2 614.1,1660.2" fill="none" stroke="#7030a0" stroke-width="8.0" stroke-linecap="round" stroke-linejoin="round"/>
</g>
<text transform="translate(73.10,1324.80) scale(0.9964,1)" font-size="45.37" fill="#000">400</text>
<text transform="translate(73.10,1408.90) scale(0.9964,1)" font-size="45.37" fill="#000">300</text>
<text transform="translate(73.10,1493.00) scale(0.9964,1)" font-size="45.37" fill="#000">200</text>
<text transform="translate(73.10,1577.10) scale(0.9964,1)" font-size="45.37" fill="#000">100</text>
<text transform="translate(124.10,1661.20) scale(0.9964,1)" font-size="45.37" fill="#000">0</text>
<text transform="translate(58.10,1745.30) scale(0.9964,1)" font-size="45.37" fill="#000">-100</text>
<text transform="translate(173.50,1797.40) scale(0.9964,1)" font-size="45.37" fill="#000">0</text>
<text transform="translate(258.90,1797.40) scale(0.9964,1)" font-size="45.37" fill="#000">3</text>
<text transform="translate(344.30,1797.40) scale(0.9964,1)" font-size="45.37" fill="#000">6</text>
<text transform="translate(429.70,1797.40) scale(0.9964,1)" font-size="45.37" fill="#000">9</text>
<text transform="translate(503.10,1797.40) scale(0.9964,1)" font-size="45.37" fill="#000">12</text>
<text transform="translate(588.00,1797.40) scale(0.9964,1)" font-size="45.37" fill="#000">15</text>
<text transform="translate(41.40,1692.90) rotate(-90) translate(-0.90,0) scale(0.9943,1)" font-size="48.83" fill="#000">Δfrequency / Hz</text>
<text transform="translate(192.55,1858.20) scale(1.0531,1)" font-size="46.58" fill="#000">development time / s</text>
<text transform="translate(232.05,1912.90) scale(1.0577,1)" font-size="32.56" fill="#000">(c)</text>
<text transform="translate(276.60,1916.60) scale(0.9648,1)" font-size="44.54" fill="#000">middle (30 μC/cm<tspan dy="-0.451em" font-size="65%">2</tspan><tspan dy="0.293em">)</tspan></text>
</g>
<g id="diagram-a">
<polygon points="622.6,74 648.7,74 680.8,152.8 622.6,152.8" fill="#62a5da"/>
<polygon points="756.2,74 814,74 843.2,152.8 726.4,152.8" fill="#62a5da"/>
<polygon points="918.3,74 941.9,74 941.9,152.8 886.3,152.8" fill="#62a5da"/>
<rect x="622.6" y="152.5" width="319.3" height="60.1" fill="#808080"/>
<rect x="869.7" y="152.5" width="72.2" height="60.1" fill="#838383"/>
<line x1="755.7" y1="73.7" x2="813.6" y2="73.7" stroke="#000" stroke-width="4.7"/>
<polygon points="828.5,19.5 807,42.1 799.3,34.8 790,66.4 821.1,55.5 813.4,48.2 834.9,25.5" fill="#ff66ff"/>
<text transform="translate(747.10,140.80) scale(1.0496,1)" font-size="28.59" fill="#000">resist</text>
<text transform="translate(809.70,192.70) scale(1.0569,1)" font-size="28.53" fill="#000">substrate</text>
</g>
<g id="legend">
<text transform="translate(703.40,269.50) scale(0.9596,1)" font-size="43.86" fill="#000">thickness</text>
<line x1="724.8" y1="308.2" x2="751.8" y2="308.2" stroke="#ff0000" stroke-width="4.6" stroke-linecap="round"/>
<text transform="translate(764.35,319.30) scale(1.0723,1)" font-size="34.86" fill="#000">70 nm</text>
<line x1="724.8" y1="356.3" x2="751.8" y2="356.3" stroke="#ed7d31" stroke-width="4.6" stroke-linecap="round"/>
<text transform="translate(764.35,367.40) scale(1.0723,1)" font-size="34.86" fill="#000">60 nm</text>
<line x1="724.8" y1="404.4" x2="751.8" y2="404.4" stroke="#00b050" stroke-width="4.6" stroke-linecap="round"/>
<text transform="translate(764.85,415.50) scale(1.0683,1)" font-size="34.86" fill="#000">50 nm</text>
<line x1="724.8" y1="452.5" x2="751.8" y2="452.5" stroke="#5b9bd5" stroke-width="4.6" stroke-linecap="round"/>
<text transform="translate(765.35,463.60) scale(1.0603,1)" font-size="34.86" fill="#000">40 nm</text>
<line x1="724.8" y1="500.6" x2="751.8" y2="500.6" stroke="#002060" stroke-width="4.6" stroke-linecap="round"/>
<text transform="translate(764.85,511.70) scale(1.0683,1)" font-size="34.86" fill="#000">30 nm</text>
<line x1="724.8" y1="548.7" x2="751.8" y2="548.7" stroke="#7030a0" stroke-width="4.6" stroke-linecap="round"/>
<text transform="translate(764.35,559.80) scale(1.0723,1)" font-size="34.86" fill="#000">20 nm</text>
</g>
<g id="diagram-b">
<polygon points="617.7,854.9 637.1,854.9 669.8,933.2 617.7,933.2" fill="#62a5da"/>
<polygon points="744.7,855.5 801.9,855.5 831.2,933.2 714.9,933.2" fill="#62a5da"/>
<polygon points="908,857.2 931.5,857.2 931.5,933.2 877.4,933.2" fill="#62a5da"/>
<rect x="617.7" y="932.9" width="313.8" height="59.7" fill="#808080"/>
<line x1="831.5" y1="932.8" x2="877.2" y2="932.8" stroke="#000" stroke-width="4"/>
<polygon points="866,869.2 857.6,895 848.1,891.9 853.2,924.3 876.3,901.1 866.8,898 875.2,872.2" fill="#ff66ff"/>
<text transform="translate(735.40,919.20) scale(1.0315,1)" font-size="28.59" fill="#000">resist</text>
<text transform="translate(772.85,976.70) scale(1.0189,1)" font-size="29.06" fill="#000">substrate</text>
</g>
<g id="diagram-c">
<polygon points="627.5,1317.9 654.9,1317.9 687,1396 627.5,1396" fill="#62a5da"/>
<polygon points="762.3,1318.9 815.5,1318.9 846.6,1396 732.6,1396" fill="#62a5da"/>
<polygon points="921.2,1317.4 944.8,1317.4 944.8,1395 889.5,1395" fill="#62a5da"/>
<polygon points="627.5,1395.7 872,1395.7 872,1394.7 944.8,1394.7 944.8,1454.5 627.5,1454.5" fill="#808080"/>
<line x1="818.0" y1="1316.4" x2="848.0" y2="1395.7" stroke="#000" stroke-width="3.2" stroke-linecap="round"/>
<polygon points="881.6,1310.2 860.2,1332.7 853,1325.9 843.8,1356.6 874,1345.8 866.8,1339 888.2,1316.4" fill="#ff66ff"/>
<text transform="translate(747.85,1377.30) scale(1.0526,1)" font-size="28.59" fill="#000">resist</text>
<text transform="translate(786.35,1436.30) scale(1.0410,1)" font-size="29.06" fill="#000">substrate</text>
</g>
</svg></body></html>
